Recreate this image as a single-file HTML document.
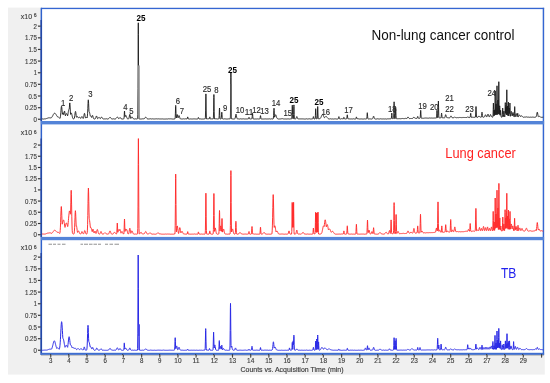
<!DOCTYPE html>
<html><head><meta charset="utf-8"><title>Chromatograms</title>
<style>html,body{margin:0;padding:0;background:#fff}svg{display:block}</style></head>
<body>
<svg width="550" height="383" viewBox="0 0 550 383" font-family="'Liberation Sans', Arial, sans-serif">
<rect width="550" height="383" fill="#fff"/>
<rect x="8" y="7.6" width="536.8" height="367" fill="#f0f0f0"/>
<rect x="41" y="8" width="503" height="346" fill="#fff"/>
<rect x="41" y="7.8" width="503.1" height="1.3" fill="#3466d2"/>
<rect x="542.7" y="7.8" width="1.4" height="347" fill="#3466d2"/>
<rect x="40.6" y="7.8" width="1.5" height="347" fill="#3062cc"/>
<rect x="40.9" y="121.0" width="503.2" height="3.4" fill="#5484d8"/>
<rect x="40.9" y="236.9" width="503.2" height="3.3" fill="#5484d8"/>
<rect x="40.4" y="352.8" width="503.7" height="2.1" fill="#3f6ed0"/>
<rect x="41" y="354.9" width="503" height="0.6" fill="#9a9a9a"/>
<rect x="40.5" y="20" width="1.3" height="101" fill="#21429e"/>
<rect x="40.5" y="138.5" width="1.3" height="98.5" fill="#21429e"/>
<rect x="40.5" y="253" width="1.3" height="99.80000000000001" fill="#21429e"/>
<g font-size="7.2" fill="#3c3c3c" stroke="#3c3c3c" stroke-width="0.15" text-anchor="end">
<rect x="38" y="118.80" width="2.6" height="1" fill="#333"/>
<text x="36.9" y="121.85" textLength="3.4" lengthAdjust="spacingAndGlyphs">0</text>
<rect x="38" y="107.16" width="2.6" height="1" fill="#333"/>
<text x="36.9" y="110.21" textLength="11.9" lengthAdjust="spacingAndGlyphs">0.25</text>
<rect x="38" y="95.52" width="2.6" height="1" fill="#333"/>
<text x="36.9" y="98.57" textLength="8.4" lengthAdjust="spacingAndGlyphs">0.5</text>
<rect x="38" y="83.88" width="2.6" height="1" fill="#333"/>
<text x="36.9" y="86.93" textLength="11.9" lengthAdjust="spacingAndGlyphs">0.75</text>
<rect x="38" y="72.24" width="2.6" height="1" fill="#333"/>
<text x="36.9" y="75.29" textLength="3.2" lengthAdjust="spacingAndGlyphs">1</text>
<rect x="38" y="60.60" width="2.6" height="1" fill="#333"/>
<text x="36.9" y="63.65" textLength="11.9" lengthAdjust="spacingAndGlyphs">1.25</text>
<rect x="38" y="48.96" width="2.6" height="1" fill="#333"/>
<text x="36.9" y="52.01" textLength="8.4" lengthAdjust="spacingAndGlyphs">1.5</text>
<rect x="38" y="37.32" width="2.6" height="1" fill="#333"/>
<text x="36.9" y="40.37" textLength="11.9" lengthAdjust="spacingAndGlyphs">1.75</text>
<rect x="38" y="25.68" width="2.6" height="1" fill="#333"/>
<text x="36.9" y="28.73" textLength="3.4" lengthAdjust="spacingAndGlyphs">2</text>
<text x="32" y="18.70" textLength="11.2" lengthAdjust="spacingAndGlyphs">x10</text>
<text x="36.7" y="17.40" font-size="5.6" textLength="2.9" lengthAdjust="spacingAndGlyphs">6</text>
<rect x="38" y="234.20" width="2.6" height="1" fill="#333"/>
<text x="36.9" y="237.25" textLength="3.4" lengthAdjust="spacingAndGlyphs">0</text>
<rect x="38" y="223.00" width="2.6" height="1" fill="#333"/>
<text x="36.9" y="226.05" textLength="11.9" lengthAdjust="spacingAndGlyphs">0.25</text>
<rect x="38" y="211.80" width="2.6" height="1" fill="#333"/>
<text x="36.9" y="214.85" textLength="8.4" lengthAdjust="spacingAndGlyphs">0.5</text>
<rect x="38" y="200.60" width="2.6" height="1" fill="#333"/>
<text x="36.9" y="203.65" textLength="11.9" lengthAdjust="spacingAndGlyphs">0.75</text>
<rect x="38" y="189.40" width="2.6" height="1" fill="#333"/>
<text x="36.9" y="192.45" textLength="3.2" lengthAdjust="spacingAndGlyphs">1</text>
<rect x="38" y="178.20" width="2.6" height="1" fill="#333"/>
<text x="36.9" y="181.25" textLength="11.9" lengthAdjust="spacingAndGlyphs">1.25</text>
<rect x="38" y="167.00" width="2.6" height="1" fill="#333"/>
<text x="36.9" y="170.05" textLength="8.4" lengthAdjust="spacingAndGlyphs">1.5</text>
<rect x="38" y="155.80" width="2.6" height="1" fill="#333"/>
<text x="36.9" y="158.85" textLength="11.9" lengthAdjust="spacingAndGlyphs">1.75</text>
<rect x="38" y="144.60" width="2.6" height="1" fill="#333"/>
<text x="36.9" y="147.65" textLength="3.4" lengthAdjust="spacingAndGlyphs">2</text>
<text x="32" y="134.90" textLength="11.2" lengthAdjust="spacingAndGlyphs">x10</text>
<text x="36.7" y="133.60" font-size="5.6" textLength="2.9" lengthAdjust="spacingAndGlyphs">6</text>
<rect x="38" y="349.80" width="2.6" height="1" fill="#333"/>
<text x="36.9" y="352.85" textLength="3.4" lengthAdjust="spacingAndGlyphs">0</text>
<rect x="38" y="338.16" width="2.6" height="1" fill="#333"/>
<text x="36.9" y="341.21" textLength="11.9" lengthAdjust="spacingAndGlyphs">0.25</text>
<rect x="38" y="326.52" width="2.6" height="1" fill="#333"/>
<text x="36.9" y="329.57" textLength="8.4" lengthAdjust="spacingAndGlyphs">0.5</text>
<rect x="38" y="314.88" width="2.6" height="1" fill="#333"/>
<text x="36.9" y="317.93" textLength="11.9" lengthAdjust="spacingAndGlyphs">0.75</text>
<rect x="38" y="303.24" width="2.6" height="1" fill="#333"/>
<text x="36.9" y="306.29" textLength="3.2" lengthAdjust="spacingAndGlyphs">1</text>
<rect x="38" y="291.60" width="2.6" height="1" fill="#333"/>
<text x="36.9" y="294.65" textLength="11.9" lengthAdjust="spacingAndGlyphs">1.25</text>
<rect x="38" y="279.96" width="2.6" height="1" fill="#333"/>
<text x="36.9" y="283.01" textLength="8.4" lengthAdjust="spacingAndGlyphs">1.5</text>
<rect x="38" y="268.32" width="2.6" height="1" fill="#333"/>
<text x="36.9" y="271.37" textLength="11.9" lengthAdjust="spacingAndGlyphs">1.75</text>
<rect x="38" y="256.68" width="2.6" height="1" fill="#333"/>
<text x="36.9" y="259.73" textLength="3.4" lengthAdjust="spacingAndGlyphs">2</text>
<text x="32" y="250.10" textLength="11.2" lengthAdjust="spacingAndGlyphs">x10</text>
<text x="36.7" y="248.80" font-size="5.6" textLength="2.9" lengthAdjust="spacingAndGlyphs">6</text>
</g>
<g font-size="7.2" fill="#3c3c3c" stroke="#3c3c3c" stroke-width="0.15" text-anchor="middle">
<rect x="50.20" y="354.9" width="1" height="2.7" fill="#444"/>
<text x="50.70" y="363.3" textLength="3.4" lengthAdjust="spacingAndGlyphs">3</text>
<rect x="68.38" y="354.9" width="1" height="2.7" fill="#444"/>
<text x="68.88" y="363.3" textLength="3.4" lengthAdjust="spacingAndGlyphs">4</text>
<rect x="86.56" y="354.9" width="1" height="2.7" fill="#444"/>
<text x="87.06" y="363.3" textLength="3.4" lengthAdjust="spacingAndGlyphs">5</text>
<rect x="104.74" y="354.9" width="1" height="2.7" fill="#444"/>
<text x="105.24" y="363.3" textLength="3.4" lengthAdjust="spacingAndGlyphs">6</text>
<rect x="122.92" y="354.9" width="1" height="2.7" fill="#444"/>
<text x="123.42" y="363.3" textLength="3.4" lengthAdjust="spacingAndGlyphs">7</text>
<rect x="141.10" y="354.9" width="1" height="2.7" fill="#444"/>
<text x="141.60" y="363.3" textLength="3.4" lengthAdjust="spacingAndGlyphs">8</text>
<rect x="159.28" y="354.9" width="1" height="2.7" fill="#444"/>
<text x="159.78" y="363.3" textLength="3.4" lengthAdjust="spacingAndGlyphs">9</text>
<rect x="177.46" y="354.9" width="1" height="2.7" fill="#444"/>
<text x="177.96" y="363.3" textLength="7.2" lengthAdjust="spacingAndGlyphs">10</text>
<rect x="195.64" y="354.9" width="1" height="2.7" fill="#444"/>
<text x="196.14" y="363.3" textLength="7.2" lengthAdjust="spacingAndGlyphs">11</text>
<rect x="213.82" y="354.9" width="1" height="2.7" fill="#444"/>
<text x="214.32" y="363.3" textLength="7.2" lengthAdjust="spacingAndGlyphs">12</text>
<rect x="232.00" y="354.9" width="1" height="2.7" fill="#444"/>
<text x="232.50" y="363.3" textLength="7.2" lengthAdjust="spacingAndGlyphs">13</text>
<rect x="250.18" y="354.9" width="1" height="2.7" fill="#444"/>
<text x="250.68" y="363.3" textLength="7.2" lengthAdjust="spacingAndGlyphs">14</text>
<rect x="268.36" y="354.9" width="1" height="2.7" fill="#444"/>
<text x="268.86" y="363.3" textLength="7.2" lengthAdjust="spacingAndGlyphs">15</text>
<rect x="286.54" y="354.9" width="1" height="2.7" fill="#444"/>
<text x="287.04" y="363.3" textLength="7.2" lengthAdjust="spacingAndGlyphs">16</text>
<rect x="304.72" y="354.9" width="1" height="2.7" fill="#444"/>
<text x="305.22" y="363.3" textLength="7.2" lengthAdjust="spacingAndGlyphs">17</text>
<rect x="322.90" y="354.9" width="1" height="2.7" fill="#444"/>
<text x="323.40" y="363.3" textLength="7.2" lengthAdjust="spacingAndGlyphs">18</text>
<rect x="341.08" y="354.9" width="1" height="2.7" fill="#444"/>
<text x="341.58" y="363.3" textLength="7.2" lengthAdjust="spacingAndGlyphs">19</text>
<rect x="359.26" y="354.9" width="1" height="2.7" fill="#444"/>
<text x="359.76" y="363.3" textLength="7.2" lengthAdjust="spacingAndGlyphs">20</text>
<rect x="377.44" y="354.9" width="1" height="2.7" fill="#444"/>
<text x="377.94" y="363.3" textLength="7.2" lengthAdjust="spacingAndGlyphs">21</text>
<rect x="395.62" y="354.9" width="1" height="2.7" fill="#444"/>
<text x="396.12" y="363.3" textLength="7.2" lengthAdjust="spacingAndGlyphs">22</text>
<rect x="413.80" y="354.9" width="1" height="2.7" fill="#444"/>
<text x="414.30" y="363.3" textLength="7.2" lengthAdjust="spacingAndGlyphs">23</text>
<rect x="431.98" y="354.9" width="1" height="2.7" fill="#444"/>
<text x="432.48" y="363.3" textLength="7.2" lengthAdjust="spacingAndGlyphs">24</text>
<rect x="450.16" y="354.9" width="1" height="2.7" fill="#444"/>
<text x="450.66" y="363.3" textLength="7.2" lengthAdjust="spacingAndGlyphs">25</text>
<rect x="468.34" y="354.9" width="1" height="2.7" fill="#444"/>
<text x="468.84" y="363.3" textLength="7.2" lengthAdjust="spacingAndGlyphs">26</text>
<rect x="486.52" y="354.9" width="1" height="2.7" fill="#444"/>
<text x="487.02" y="363.3" textLength="7.2" lengthAdjust="spacingAndGlyphs">27</text>
<rect x="504.70" y="354.9" width="1" height="2.7" fill="#444"/>
<text x="505.20" y="363.3" textLength="7.2" lengthAdjust="spacingAndGlyphs">28</text>
<rect x="522.88" y="354.9" width="1" height="2.7" fill="#444"/>
<text x="523.38" y="363.3" textLength="7.2" lengthAdjust="spacingAndGlyphs">29</text>
<rect x="541.06" y="354.9" width="1" height="2.7" fill="#444"/>
<text x="292" y="372.3" textLength="103" lengthAdjust="spacingAndGlyphs">Counts vs. Acquisition Time (min)</text>
</g>
<g fill="#9c9c9c">
<rect x="48.5" y="243.7" width="3.5" height="1.1" />
<rect x="53" y="243.7" width="3" height="1.1" />
<rect x="57.5" y="243.7" width="3.0" height="1.1" />
<rect x="62" y="243.7" width="3.5" height="1.1" />
<rect x="80.5" y="243.7" width="2.5" height="1.1" />
<rect x="84" y="243.7" width="4" height="1.1" />
<rect x="89" y="243.7" width="3.5" height="1.1" />
<rect x="93.5" y="243.7" width="3.5" height="1.1" />
<rect x="98" y="243.7" width="3" height="1.1" />
<rect x="105" y="243.7" width="3" height="1.1" />
<rect x="109.5" y="243.7" width="3.5" height="1.1" />
<rect x="114.5" y="243.7" width="4.5" height="1.1" />
</g>
<polyline points="42.00,119.0 42.20,119.0 42.40,118.9 42.60,118.9 42.80,118.9 43.00,118.9 43.20,119.0 43.40,119.0 43.60,119.0 43.80,119.0 44.00,118.9 44.20,118.9 44.40,118.9 44.60,118.9 44.80,118.8 45.00,118.8 45.20,118.8 45.40,118.8 45.60,118.8 45.80,118.8 46.00,118.7 46.20,118.6 46.40,118.6 46.60,118.5 46.80,118.5 47.00,118.5 47.20,118.4 47.40,118.3 47.60,118.2 47.80,118.1 48.00,118.1 48.20,118.0 48.40,117.9 48.60,117.9 48.80,117.8 49.00,117.9 49.20,117.9 49.40,117.9 49.50,117.9 49.60,117.8 49.80,117.8 50.00,117.9 50.20,117.9 50.40,117.9 50.60,117.9 50.80,117.9 51.00,117.9 51.20,117.8 51.40,117.7 51.60,117.5 51.80,117.3 52.00,117.0 52.20,116.7 52.40,116.4 52.60,116.0 52.80,115.6 53.00,115.2 53.20,114.8 53.40,114.4 53.60,114.1 53.80,113.8 54.00,113.6 54.20,113.4 54.40,113.3 54.60,113.2 54.70,113.1 54.80,113.1 55.00,113.2 55.20,113.4 55.40,113.7 55.60,113.9 55.80,114.2 56.00,114.5 56.20,114.8 56.40,115.2 56.60,115.5 56.80,115.9 57.00,116.2 57.20,116.5 57.40,116.7 57.60,116.8 57.80,116.7 58.00,116.8 58.20,116.8 58.40,117.0 58.60,117.2 58.80,117.4 59.00,117.6 59.20,117.8 59.40,118.0 59.60,118.2 59.80,118.4 60.00,118.4 60.20,117.9 60.40,116.8 60.60,115.1 60.80,112.8 61.00,110.2 61.20,107.9 61.40,106.5 61.50,106.2 61.60,106.4 61.80,107.6 62.00,109.8 62.20,112.2 62.40,114.3 62.60,113.5 62.80,112.9 63.00,112.7 63.20,113.0 63.40,113.7 63.60,114.6 63.80,114.6 64.00,113.2 64.20,112.0 64.40,111.2 64.50,111.1 64.60,111.2 64.80,112.1 65.00,113.4 65.20,114.8 65.40,115.8 65.60,115.3 65.80,114.7 66.00,114.2 66.20,113.7 66.40,113.5 66.50,113.5 66.60,113.6 66.80,113.8 67.00,114.2 67.20,114.8 67.40,115.3 67.60,115.9 67.80,115.0 68.00,113.8 68.20,112.6 68.40,111.4 68.60,110.4 68.80,109.7 68.90,109.4 69.00,109.3 69.20,109.1 69.40,107.2 69.60,104.0 69.80,102.9 70.00,104.5 70.20,108.0 70.40,111.9 70.60,114.4 70.80,113.9 71.00,113.3 71.20,113.0 71.30,112.9 71.40,113.0 71.60,113.5 71.80,114.3 72.00,115.2 72.20,116.2 72.40,117.0 72.60,117.7 72.80,118.2 73.00,118.6 73.20,118.8 73.40,118.9 73.60,118.9 73.80,118.8 74.00,118.7 74.20,118.5 74.40,118.0 74.60,117.0 74.80,115.7 75.00,114.0 75.20,112.4 75.40,111.5 75.50,111.4 75.60,111.5 75.80,112.5 76.00,114.0 76.20,115.6 76.40,116.9 76.60,117.3 76.80,117.0 77.00,116.7 77.20,116.6 77.30,116.5 77.40,116.6 77.60,116.7 77.80,117.0 78.00,117.3 78.20,117.6 78.40,117.9 78.60,117.9 78.80,117.7 79.00,117.5 79.20,117.3 79.40,117.2 79.50,117.2 79.60,117.2 79.80,117.3 80.00,117.5 80.20,117.9 80.40,118.2 80.60,118.3 80.80,118.4 81.00,118.1 81.20,117.7 81.40,117.3 81.60,116.9 81.80,116.6 82.00,116.5 82.20,116.7 82.40,117.0 82.60,117.4 82.80,117.9 83.00,118.3 83.20,118.5 83.40,118.1 83.60,117.4 83.80,116.4 84.00,115.2 84.20,114.1 84.40,113.4 84.50,113.3 84.60,113.5 84.80,114.2 85.00,115.4 85.20,116.6 85.40,117.5 85.60,118.1 85.80,117.7 86.00,117.4 86.20,117.2 86.30,117.2 86.40,117.2 86.60,117.4 86.80,117.7 87.00,118.0 87.20,117.8 87.40,116.2 87.60,113.2 87.80,108.7 88.00,103.7 88.20,100.4 88.30,99.8 88.40,100.2 88.60,103.2 88.80,107.8 89.00,111.7 89.20,111.8 89.30,111.9 89.40,112.1 89.60,112.7 89.80,113.6 90.00,114.6 90.20,115.5 90.40,116.1 90.60,115.9 90.80,115.9 91.00,116.2 91.20,116.6 91.40,117.1 91.60,117.5 91.80,117.3 92.00,116.6 92.20,115.9 92.40,115.5 92.50,115.4 92.60,115.4 92.80,115.9 93.00,116.6 93.20,117.4 93.40,118.0 93.60,118.5 93.80,118.8 94.00,118.9 94.20,118.9 94.40,119.0 94.60,119.0 94.80,119.0 95.00,118.9 95.20,118.8 95.40,118.6 95.60,118.2 95.80,117.7 96.00,117.0 96.20,116.4 96.40,116.0 96.50,116.0 96.60,116.0 96.80,116.4 97.00,117.0 97.20,117.7 97.40,118.2 97.60,118.6 97.80,118.7 98.00,118.5 98.20,118.2 98.40,117.9 98.60,117.6 98.80,117.4 99.00,117.3 99.20,117.3 99.40,117.6 99.60,117.9 99.80,118.2 100.00,118.5 100.20,118.6 100.40,118.5 100.60,118.2 100.80,117.9 101.00,117.5 101.20,117.2 101.40,117.0 101.50,117.0 101.60,117.0 101.80,117.3 102.00,117.6 102.20,118.0 102.40,118.3 102.60,118.5 102.80,118.7 103.00,118.8 103.20,118.9 103.40,119.0 103.60,118.9 103.80,118.9 104.00,118.9 104.20,118.9 104.40,118.9 104.60,118.9 104.80,118.9 105.00,118.9 105.20,119.0 105.40,118.9 105.60,118.8 105.80,118.7 106.00,118.6 106.20,118.6 106.40,118.7 106.60,118.8 106.80,118.9 107.00,118.9 107.20,119.0 107.40,119.0 107.60,119.0 107.80,119.0 108.00,119.0 108.20,118.9 108.40,118.8 108.60,118.7 108.80,118.5 109.00,118.3 109.20,118.1 109.40,117.8 109.60,117.5 109.80,117.3 110.00,117.2 110.20,117.3 110.40,117.4 110.60,117.7 110.80,118.0 111.00,118.3 111.20,118.5 111.40,118.7 111.60,118.8 111.80,118.9 112.00,118.9 112.20,118.9 112.40,119.0 112.60,119.0 112.80,118.9 113.00,118.9 113.20,118.8 113.40,118.8 113.60,118.8 113.80,118.9 114.00,118.9 114.20,119.0 114.40,119.0 114.60,119.0 114.80,118.9 115.00,118.9 115.20,118.9 115.40,118.9 115.60,118.8 115.80,118.7 116.00,118.5 116.20,118.3 116.40,118.0 116.60,117.7 116.80,117.4 117.00,117.1 117.20,117.0 117.30,117.0 117.40,117.0 117.60,117.2 117.80,117.4 118.00,117.7 118.20,118.0 118.40,118.3 118.60,118.5 118.80,118.7 119.00,118.7 119.20,118.4 119.40,118.1 119.60,117.8 119.80,117.6 120.00,117.5 120.20,117.5 120.40,117.7 120.60,118.1 120.80,118.4 121.00,118.7 121.20,118.8 121.40,118.8 121.60,118.8 121.80,118.8 122.00,118.9 122.20,118.9 122.40,119.0 122.60,119.0 122.80,119.0 123.00,118.9 123.20,118.9 123.40,118.9 123.60,118.9 123.80,118.8 124.00,118.4 124.20,116.1 124.40,111.9 124.50,111.0 124.60,111.8 124.80,115.8 125.00,116.8 125.20,116.3 125.40,115.8 125.60,115.4 125.80,115.3 126.00,115.5 126.20,115.9 126.40,116.5 126.60,117.1 126.80,117.6 127.00,118.1 127.20,118.5 127.40,118.7 127.60,118.8 127.80,118.8 128.00,118.9 128.20,118.9 128.40,118.9 128.60,118.8 128.80,118.6 129.00,118.1 129.20,117.1 129.40,115.9 129.60,114.8 129.80,114.4 130.00,114.8 130.20,115.9 130.40,117.1 130.60,118.0 130.80,118.5 131.00,118.3 131.20,118.0 131.40,117.6 131.60,117.2 131.80,116.9 132.00,116.9 132.20,117.0 132.40,117.3 132.60,117.7 132.80,118.1 133.00,118.4 133.20,118.6 133.40,118.7 133.60,118.7 133.80,118.8 134.00,118.8 134.20,118.9 134.40,119.0 134.60,119.0 134.80,118.9 135.00,118.8 135.20,118.8 135.40,118.8 135.60,118.8 135.80,118.8 136.00,118.9 136.20,118.9 136.40,119.0 136.60,118.9 136.80,118.9 137.00,118.8 137.20,118.8 137.40,118.8 137.60,118.6 137.80,114.8 138.00,88.3 138.20,34.3 138.30,22.8 138.40,34.3 138.60,88.4 138.80,114.9 139.00,118.7 139.20,119.0 139.40,119.0 139.60,119.0 139.80,118.9 140.00,118.9 140.20,118.9 140.40,119.0 140.60,119.0 140.80,119.0 141.00,119.0 141.20,119.0 141.40,119.0 141.60,118.9 141.80,118.9 142.00,118.8 142.20,118.8 142.40,118.8 142.60,118.8 142.80,118.8 143.00,118.8 143.20,118.8 143.40,118.8 143.60,118.8 143.80,118.8 144.00,118.8 144.20,118.7 144.40,118.6 144.60,118.5 144.80,118.2 145.00,117.9 145.20,117.6 145.40,117.3 145.60,117.2 145.70,117.1 145.80,117.1 146.00,117.2 146.20,117.4 146.40,117.7 146.60,118.0 146.80,118.3 147.00,118.6 147.20,118.7 147.40,118.8 147.60,118.9 147.80,118.9 148.00,118.9 148.20,118.9 148.40,118.9 148.60,119.0 148.80,119.0 149.00,118.9 149.20,118.9 149.40,118.9 149.60,118.9 149.80,118.9 150.00,118.9 150.20,118.8 150.40,118.8 150.60,118.8 150.80,118.8 151.00,118.9 151.20,118.9 151.40,118.9 151.60,119.0 151.80,119.0 152.00,118.9 152.20,118.9 152.40,118.8 152.60,118.8 152.80,118.9 153.00,118.9 153.20,118.9 153.40,118.9 153.60,119.0 153.80,119.0 154.00,119.0 154.20,119.0 154.40,119.0 154.60,118.9 154.80,119.0 155.00,119.0 155.20,119.0 155.40,118.9 155.60,118.9 155.80,118.9 156.00,119.0 156.20,118.9 156.40,118.9 156.60,118.8 156.80,118.8 157.00,118.8 157.20,118.8 157.40,118.9 157.60,118.9 157.80,119.0 158.00,118.9 158.20,118.9 158.40,118.8 158.60,118.8 158.80,118.9 159.00,118.9 159.20,119.0 159.40,119.0 159.60,118.9 159.80,118.9 160.00,119.0 160.20,119.0 160.40,119.0 160.60,118.9 160.80,118.9 161.00,118.9 161.20,118.9 161.40,118.9 161.60,119.0 161.80,119.0 162.00,119.0 162.20,119.0 162.40,118.9 162.60,118.9 162.80,118.9 163.00,118.9 163.20,119.0 163.40,119.0 163.60,119.0 163.80,118.9 164.00,118.9 164.20,119.0 164.40,119.0 164.60,119.0 164.80,119.0 165.00,119.0 165.20,119.0 165.40,119.0 165.60,119.0 165.80,119.0 166.00,119.0 166.20,119.0 166.40,119.0 166.60,118.9 166.80,118.9 167.00,118.9 167.20,118.9 167.40,119.0 167.60,119.0 167.80,118.9 168.00,118.8 168.20,118.8 168.40,118.8 168.60,118.8 168.80,118.9 169.00,119.0 169.20,119.0 169.40,118.9 169.60,118.8 169.80,118.8 170.00,118.8 170.20,118.8 170.40,118.8 170.60,118.9 170.80,118.9 171.00,119.0 171.20,119.0 171.40,118.9 171.60,118.9 171.80,118.9 172.00,119.0 172.20,119.0 172.40,119.0 172.60,119.0 172.80,119.0 173.00,119.0 173.20,119.0 173.40,119.0 173.60,119.0 173.80,119.0 174.00,118.9 174.20,118.9 174.40,118.9 174.60,118.9 174.80,118.9 175.00,118.8 175.20,117.7 175.40,113.2 175.60,106.6 175.70,105.4 175.80,106.6 176.00,113.2 176.20,117.7 176.40,118.0 176.60,117.1 176.80,115.9 177.00,114.9 177.20,114.5 177.40,114.9 177.60,115.9 177.80,117.1 178.00,117.9 178.20,117.7 178.40,117.1 178.60,116.4 178.80,115.8 179.00,115.5 179.20,115.7 179.40,116.2 179.60,117.0 179.80,117.7 180.00,118.3 180.20,118.7 180.40,118.9 180.60,118.9 180.80,118.9 181.00,118.9 181.20,119.0 181.40,119.0 181.60,118.9 181.80,118.9 182.00,118.9 182.20,118.9 182.40,118.9 182.60,119.0 182.80,119.0 183.00,118.9 183.20,118.9 183.40,118.8 183.60,118.8 183.80,118.8 184.00,118.8 184.20,118.9 184.40,119.0 184.60,118.9 184.80,118.8 185.00,118.8 185.20,118.8 185.40,118.8 185.60,118.8 185.80,118.8 186.00,118.9 186.20,118.9 186.40,118.9 186.60,118.9 186.80,119.0 187.00,119.0 187.20,118.7 187.40,118.0 187.60,117.1 187.70,116.9 187.80,117.1 188.00,118.0 188.20,118.8 188.40,118.9 188.60,118.9 188.80,118.9 189.00,118.9 189.20,119.0 189.40,119.0 189.60,119.0 189.80,119.0 190.00,119.0 190.20,119.0 190.40,118.9 190.60,118.9 190.80,118.9 191.00,118.9 191.20,118.9 191.40,119.0 191.60,119.0 191.80,118.9 192.00,118.9 192.20,119.0 192.40,119.0 192.60,118.9 192.80,118.9 193.00,118.9 193.20,118.9 193.40,118.9 193.60,118.9 193.80,118.9 194.00,118.9 194.20,118.9 194.40,118.9 194.60,118.9 194.80,118.9 195.00,118.9 195.20,118.9 195.40,118.9 195.60,119.0 195.80,119.0 196.00,119.0 196.20,119.0 196.40,119.0 196.60,119.0 196.80,119.0 197.00,119.0 197.20,119.0 197.40,119.0 197.60,119.0 197.80,118.9 198.00,118.6 198.20,117.8 198.40,117.4 198.60,117.8 198.80,118.5 199.00,118.8 199.20,118.9 199.40,118.9 199.60,118.9 199.80,118.9 200.00,118.9 200.20,118.9 200.40,118.9 200.60,118.9 200.80,118.9 201.00,118.9 201.20,119.0 201.40,119.0 201.60,119.0 201.80,119.0 202.00,119.0 202.20,119.0 202.40,119.0 202.60,119.0 202.80,119.0 203.00,119.0 203.20,119.0 203.40,119.0 203.60,119.0 203.80,119.0 204.00,119.0 204.20,118.9 204.40,118.9 204.60,118.9 204.80,118.9 205.00,118.9 205.20,118.8 205.40,117.8 205.60,110.9 205.80,96.9 205.90,93.9 206.00,96.9 206.20,111.0 206.40,117.9 206.60,118.9 206.80,119.0 207.00,119.0 207.20,118.9 207.40,118.9 207.60,118.8 207.80,118.8 208.00,118.7 208.20,118.7 208.40,118.8 208.60,118.8 208.80,118.9 209.00,119.0 209.20,118.9 209.40,118.4 209.60,117.5 209.80,116.9 210.00,117.5 210.20,118.4 210.40,118.9 210.60,119.0 210.80,119.0 211.00,118.9 211.20,118.9 211.40,118.9 211.60,118.9 211.80,118.8 212.00,118.9 212.20,118.9 212.40,118.9 212.60,118.9 212.80,118.9 213.00,118.9 213.20,118.9 213.40,117.9 213.60,111.2 213.80,97.4 213.90,94.5 214.00,97.4 214.20,111.2 214.40,118.0 214.60,118.9 214.80,118.9 215.00,118.9 215.20,118.8 215.40,118.8 215.60,118.8 215.80,118.8 216.00,118.8 216.20,118.8 216.40,118.8 216.60,118.8 216.80,118.9 217.00,118.9 217.20,119.0 217.40,119.0 217.60,118.9 217.80,118.9 218.00,118.9 218.20,118.9 218.40,118.9 218.60,118.8 218.80,118.8 219.00,118.4 219.20,115.4 219.40,109.3 219.50,108.0 219.60,109.3 219.80,115.5 220.00,118.5 220.20,119.0 220.40,119.0 220.60,119.0 220.80,119.0 221.00,118.9 221.20,118.7 221.40,117.3 221.60,114.2 221.80,112.2 222.00,114.2 222.20,117.3 222.40,118.7 222.60,118.9 222.80,118.9 223.00,119.0 223.20,119.0 223.40,119.0 223.60,119.0 223.80,119.0 224.00,119.0 224.20,118.9 224.40,118.9 224.60,118.8 224.80,118.8 225.00,118.8 225.20,118.9 225.40,118.9 225.60,118.9 225.80,118.9 226.00,119.0 226.20,119.0 226.40,119.0 226.60,119.0 226.80,119.0 227.00,119.0 227.20,119.0 227.40,119.0 227.60,119.0 227.80,118.9 228.00,118.9 228.20,118.9 228.40,118.9 228.60,118.9 228.80,118.9 229.00,119.0 229.20,118.9 229.40,118.9 229.60,118.9 229.80,118.9 230.00,118.9 230.20,118.8 230.40,117.0 230.60,104.1 230.80,77.9 230.90,72.3 231.00,77.8 231.20,104.1 231.40,116.9 231.60,118.8 231.80,118.9 232.00,118.9 232.20,118.9 232.40,118.9 232.60,118.9 232.80,119.0 233.00,119.0 233.20,119.0 233.40,119.0 233.60,119.0 233.80,119.0 234.00,119.0 234.20,119.0 234.40,119.0 234.60,118.9 234.80,118.8 235.00,118.5 235.20,118.0 235.40,117.0 235.60,115.8 235.80,114.6 236.00,114.1 236.20,114.5 236.40,115.6 236.60,116.9 236.80,117.8 237.00,118.4 237.20,118.7 237.40,118.8 237.60,118.9 237.80,118.9 238.00,119.0 238.20,119.0 238.40,118.9 238.60,118.9 238.80,118.9 239.00,119.0 239.20,119.0 239.40,119.0 239.60,119.0 239.80,118.9 240.00,118.8 240.20,118.8 240.40,118.8 240.60,118.8 240.80,118.8 241.00,118.9 241.20,119.0 241.40,118.9 241.60,118.9 241.80,118.9 242.00,118.9 242.20,118.9 242.40,118.9 242.60,118.9 242.80,118.9 243.00,118.9 243.20,118.9 243.40,118.8 243.60,118.8 243.80,118.9 244.00,118.9 244.20,119.0 244.40,119.0 244.60,118.9 244.80,118.9 245.00,118.9 245.20,118.9 245.40,118.9 245.60,119.0 245.80,119.0 246.00,119.0 246.20,119.0 246.40,119.0 246.60,118.9 246.80,118.9 247.00,118.9 247.20,119.0 247.40,118.9 247.60,118.9 247.80,118.8 248.00,118.8 248.20,118.8 248.40,118.8 248.60,118.5 248.80,117.8 249.00,117.3 249.20,117.7 249.40,118.5 249.60,118.8 249.80,118.8 250.00,118.8 250.20,118.8 250.40,118.9 250.60,119.0 250.80,118.9 251.00,118.8 251.20,118.8 251.40,118.8 251.60,118.8 251.80,118.8 252.00,118.4 252.20,116.5 252.40,113.7 252.50,113.1 252.60,113.6 252.80,116.5 253.00,118.4 253.20,118.9 253.40,118.9 253.60,119.0 253.80,119.0 254.00,119.0 254.20,119.0 254.40,119.0 254.60,119.0 254.80,119.0 255.00,119.0 255.20,119.0 255.40,119.0 255.60,118.9 255.80,118.9 256.00,118.9 256.20,118.9 256.40,118.9 256.60,119.0 256.80,119.0 257.00,118.9 257.20,118.9 257.40,118.8 257.60,118.9 257.80,118.9 258.00,118.9 258.20,119.0 258.40,119.0 258.60,118.9 258.80,119.0 259.00,119.0 259.20,119.0 259.40,119.0 259.60,118.9 259.80,118.9 260.00,118.6 260.20,117.4 260.40,115.9 260.50,115.6 260.60,115.9 260.80,117.4 261.00,118.6 261.20,118.9 261.40,119.0 261.60,119.0 261.80,119.0 262.00,119.0 262.20,119.0 262.40,119.0 262.60,119.0 262.80,118.9 263.00,118.9 263.20,118.9 263.40,119.0 263.60,119.0 263.80,119.0 264.00,119.0 264.20,119.0 264.40,119.0 264.60,118.9 264.80,118.9 265.00,118.9 265.20,118.9 265.40,118.9 265.60,118.9 265.80,118.9 266.00,118.9 266.20,119.0 266.40,119.0 266.60,118.9 266.80,118.9 267.00,118.9 267.20,118.9 267.40,118.9 267.60,119.0 267.80,119.0 268.00,119.0 268.20,119.0 268.40,118.9 268.60,118.9 268.80,118.9 269.00,118.8 269.20,118.8 269.40,118.8 269.60,118.9 269.80,118.9 270.00,119.0 270.20,119.0 270.40,119.0 270.60,119.0 270.80,119.0 271.00,118.9 271.20,118.9 271.40,118.8 271.60,118.8 271.80,118.8 272.00,118.8 272.20,118.9 272.40,118.9 272.60,119.0 272.80,119.0 273.00,118.9 273.20,118.8 273.40,118.0 273.60,115.4 273.80,110.8 274.00,108.2 274.20,110.7 274.40,115.2 274.60,117.2 274.80,116.7 275.00,116.0 275.20,115.4 275.40,114.9 275.60,114.7 275.80,114.9 276.00,115.3 276.20,116.0 276.40,116.7 276.60,117.4 276.80,117.9 277.00,118.2 277.20,118.5 277.40,118.6 277.60,118.7 277.80,118.7 278.00,118.8 278.20,118.9 278.40,119.0 278.60,119.0 278.80,118.9 279.00,118.9 279.20,118.9 279.40,118.9 279.60,119.0 279.80,119.0 280.00,118.9 280.20,118.9 280.40,118.9 280.60,118.9 280.80,118.9 281.00,118.8 281.20,118.8 281.40,118.8 281.60,118.7 281.80,118.7 282.00,118.7 282.20,118.6 282.40,118.7 282.60,118.7 282.80,118.8 283.00,118.9 283.20,118.9 283.40,119.0 283.60,118.9 283.80,118.9 284.00,118.9 284.20,118.9 284.40,119.0 284.60,119.0 284.80,118.9 285.00,118.9 285.20,118.9 285.40,118.9 285.60,119.0 285.80,119.0 286.00,119.0 286.20,119.0 286.40,119.0 286.60,119.0 286.80,119.0 287.00,119.0 287.20,119.0 287.40,118.9 287.60,118.9 287.80,118.9 288.00,118.9 288.20,118.9 288.40,118.9 288.60,118.9 288.80,118.9 289.00,118.9 289.20,118.9 289.40,119.0 289.60,119.0 289.80,119.0 290.00,118.9 290.20,118.9 290.40,118.9 290.60,118.9 290.80,118.9 291.00,119.0 291.20,119.0 291.40,118.9 291.60,118.8 291.80,118.2 292.00,114.4 292.20,106.8 292.30,105.2 292.40,106.9 292.60,114.6 292.80,118.3 293.00,118.9 293.20,118.9 293.40,118.4 293.60,114.5 293.80,106.6 293.90,104.9 294.00,106.6 294.20,114.5 294.40,118.4 294.60,119.0 294.80,119.0 295.00,119.0 295.20,119.0 295.40,119.0 295.60,118.9 295.80,118.8 296.00,118.5 296.20,118.0 296.40,117.4 296.60,116.8 296.80,116.5 297.00,116.8 297.20,117.3 297.40,118.0 297.60,118.5 297.80,118.8 298.00,118.9 298.20,118.9 298.40,118.9 298.60,118.9 298.80,118.9 299.00,118.9 299.20,118.9 299.40,118.9 299.60,118.9 299.80,118.9 300.00,118.9 300.20,118.9 300.40,118.9 300.60,118.9 300.80,118.9 301.00,118.9 301.20,118.9 301.40,118.9 301.60,118.9 301.80,118.9 302.00,118.9 302.20,118.9 302.40,118.9 302.60,118.9 302.80,118.9 303.00,118.9 303.20,118.9 303.40,119.0 303.60,118.9 303.80,118.9 304.00,118.9 304.20,119.0 304.40,119.0 304.60,119.0 304.80,119.0 305.00,119.0 305.20,119.0 305.40,119.0 305.60,119.0 305.80,119.0 306.00,119.0 306.20,118.9 306.40,118.9 306.60,118.8 306.80,118.8 307.00,118.9 307.20,118.9 307.40,119.0 307.60,119.0 307.80,119.0 308.00,118.9 308.20,118.9 308.40,118.9 308.60,118.9 308.80,118.9 309.00,118.9 309.20,118.8 309.40,118.8 309.60,118.8 309.80,118.9 310.00,118.9 310.20,118.9 310.40,119.0 310.60,119.0 310.80,119.0 311.00,119.0 311.20,119.0 311.40,119.0 311.60,118.9 311.80,118.9 312.00,118.9 312.20,118.8 312.40,118.8 312.60,118.9 312.80,118.8 313.00,118.4 313.20,117.3 313.40,116.6 313.60,117.3 313.80,118.4 314.00,118.9 314.20,119.0 314.40,119.0 314.60,119.0 314.80,118.9 315.00,118.9 315.20,118.4 315.40,115.6 315.60,109.9 315.70,108.7 315.80,109.9 316.00,115.7 316.20,118.5 316.40,118.9 316.60,118.9 316.80,118.9 317.00,118.9 317.20,118.4 317.40,115.0 317.60,108.0 317.70,106.5 317.80,107.9 318.00,115.0 318.20,118.5 318.40,118.9 318.60,118.8 318.80,118.7 319.00,118.7 319.20,118.7 319.40,118.7 319.60,118.7 319.80,118.7 320.00,118.6 320.20,118.5 320.40,118.2 320.60,117.9 320.80,117.6 321.00,117.2 321.20,116.8 321.40,116.3 321.60,115.8 321.80,115.3 322.00,114.9 322.20,114.6 322.40,114.5 322.50,114.5 322.60,114.4 322.80,114.5 323.00,114.7 323.20,115.1 323.40,115.6 323.60,116.1 323.80,116.6 324.00,117.0 324.20,117.4 324.40,117.7 324.60,117.7 324.80,117.5 325.00,117.2 325.20,117.0 325.40,116.8 325.60,116.6 325.80,116.4 326.00,116.4 326.20,116.5 326.40,116.6 326.60,116.8 326.80,117.0 327.00,117.2 327.20,117.4 327.40,117.7 327.60,118.0 327.80,118.3 328.00,118.5 328.20,118.6 328.40,118.7 328.60,118.8 328.80,118.9 329.00,118.9 329.20,119.0 329.40,119.0 329.60,118.9 329.80,118.8 330.00,118.8 330.20,118.8 330.40,118.8 330.60,118.8 330.80,118.8 331.00,118.9 331.20,118.9 331.40,119.0 331.60,119.0 331.80,119.0 332.00,119.0 332.20,119.0 332.40,118.9 332.60,118.9 332.80,118.9 333.00,118.9 333.20,118.9 333.40,119.0 333.60,119.0 333.80,119.0 334.00,118.9 334.20,118.9 334.40,118.9 334.60,118.9 334.80,118.9 335.00,118.9 335.20,118.9 335.40,118.9 335.60,118.9 335.80,118.9 336.00,119.0 336.20,119.0 336.40,119.0 336.60,119.0 336.80,119.0 337.00,119.0 337.20,119.0 337.40,119.0 337.60,119.0 337.80,119.0 338.00,118.9 338.20,118.8 338.40,118.5 338.60,117.7 338.80,116.7 338.90,116.6 339.00,116.8 339.20,117.9 339.40,118.7 339.60,118.9 339.80,118.9 340.00,118.9 340.20,119.0 340.40,119.0 340.60,118.9 340.80,118.9 341.00,118.8 341.20,118.7 341.40,118.7 341.60,118.7 341.80,118.8 342.00,118.9 342.20,118.9 342.40,118.8 342.60,118.8 342.80,118.8 343.00,118.9 343.20,118.9 343.40,118.8 343.60,118.2 343.80,117.4 343.90,117.3 344.00,117.4 344.20,118.1 344.40,118.7 344.60,118.8 344.80,118.8 345.00,118.8 345.20,118.9 345.40,118.9 345.60,119.0 345.80,118.9 346.00,118.9 346.20,118.9 346.40,118.8 346.60,118.8 346.80,118.3 347.00,117.0 347.20,115.1 347.30,114.8 347.40,115.2 347.60,117.1 347.80,118.5 348.00,118.8 348.20,118.8 348.40,118.8 348.60,118.8 348.80,118.9 349.00,118.9 349.20,118.9 349.40,118.9 349.60,118.9 349.80,118.9 350.00,118.9 350.20,118.9 350.40,118.9 350.60,119.0 350.80,119.0 351.00,119.0 351.20,119.0 351.40,119.0 351.60,118.9 351.80,118.9 352.00,119.0 352.20,119.0 352.40,119.0 352.60,118.9 352.80,118.9 353.00,118.8 353.20,118.8 353.40,118.8 353.60,118.8 353.80,118.8 354.00,118.9 354.20,118.9 354.40,119.0 354.60,119.0 354.80,119.0 355.00,119.0 355.20,119.0 355.40,119.0 355.60,119.0 355.80,118.9 356.00,118.5 356.20,117.6 356.40,116.9 356.60,117.5 356.80,118.3 357.00,118.7 357.20,118.7 357.40,118.7 357.60,118.7 357.80,118.7 358.00,118.7 358.20,118.7 358.40,118.8 358.60,118.8 358.80,118.9 359.00,118.9 359.20,118.9 359.40,119.0 359.60,119.0 359.80,119.0 360.00,119.0 360.20,119.0 360.40,119.0 360.60,118.9 360.80,118.9 361.00,118.9 361.20,118.9 361.40,118.9 361.60,118.9 361.80,119.0 362.00,119.0 362.20,119.0 362.40,119.0 362.60,119.0 362.80,119.0 363.00,119.0 363.20,119.0 363.40,119.0 363.60,119.0 363.80,119.0 364.00,119.0 364.20,118.9 364.40,118.9 364.60,118.9 364.80,118.9 365.00,118.9 365.20,118.9 365.40,119.0 365.60,119.0 365.80,118.9 366.00,118.9 366.20,118.9 366.40,118.9 366.60,118.9 366.80,118.4 367.00,116.3 367.20,113.3 367.30,112.7 367.40,113.2 367.60,116.2 367.80,118.3 368.00,118.8 368.20,118.9 368.40,119.0 368.60,119.0 368.80,119.0 369.00,119.0 369.20,118.9 369.40,118.9 369.60,118.9 369.80,118.9 370.00,118.9 370.20,118.9 370.40,118.9 370.60,118.9 370.80,119.0 371.00,119.0 371.20,119.0 371.40,119.0 371.60,119.0 371.80,119.0 372.00,118.9 372.20,118.9 372.40,118.8 372.60,118.6 372.80,118.3 373.00,117.8 373.20,117.1 373.40,116.4 373.60,116.2 373.80,116.4 374.00,117.1 374.20,117.8 374.40,118.4 374.60,118.7 374.80,118.9 375.00,118.9 375.20,119.0 375.40,119.0 375.60,119.0 375.80,119.0 376.00,119.0 376.20,119.0 376.40,119.0 376.60,119.0 376.80,118.9 377.00,118.9 377.20,118.8 377.40,118.8 377.60,118.8 377.80,118.8 378.00,118.8 378.20,118.9 378.40,118.9 378.60,118.9 378.80,118.9 379.00,118.9 379.20,119.0 379.40,119.0 379.60,118.9 379.80,118.9 380.00,118.8 380.20,118.8 380.40,118.8 380.60,118.8 380.80,118.8 381.00,118.9 381.20,118.9 381.40,119.0 381.60,118.9 381.80,118.9 382.00,118.9 382.20,118.9 382.40,118.9 382.60,119.0 382.80,119.0 383.00,119.0 383.20,119.0 383.40,118.9 383.60,118.9 383.80,118.9 384.00,118.9 384.20,118.9 384.40,118.9 384.60,119.0 384.80,119.0 385.00,118.9 385.20,118.9 385.40,118.9 385.60,118.9 385.80,118.9 386.00,118.9 386.20,119.0 386.40,119.0 386.60,119.0 386.80,119.0 387.00,118.9 387.20,118.9 387.40,118.8 387.60,118.8 387.80,118.8 388.00,118.7 388.20,118.8 388.40,118.8 388.60,118.8 388.80,118.9 389.00,118.9 389.20,118.9 389.40,118.8 389.60,118.8 389.80,118.8 390.00,118.8 390.20,118.8 390.40,118.8 390.60,118.8 390.80,118.8 391.00,118.8 391.20,118.7 391.40,118.1 391.60,115.4 391.80,113.1 392.00,115.3 392.20,118.0 392.40,118.6 392.60,118.7 392.80,118.6 393.00,118.6 393.20,118.6 393.40,118.5 393.60,117.8 393.80,113.2 394.00,103.7 394.10,101.8 394.20,103.9 394.40,113.4 394.60,118.1 394.80,118.8 395.00,118.8 395.20,118.3 395.40,115.2 395.60,108.9 395.70,107.6 395.80,108.9 396.00,115.2 396.20,118.3 396.40,118.7 396.60,118.7 396.80,118.7 397.00,118.7 397.20,118.8 397.40,118.7 397.60,118.7 397.80,118.7 398.00,118.7 398.20,118.8 398.40,118.7 398.60,118.6 398.80,118.6 399.00,118.6 399.20,118.6 399.40,118.6 399.60,118.7 399.80,118.7 400.00,118.7 400.20,118.7 400.40,118.7 400.60,118.7 400.80,118.7 401.00,118.6 401.20,118.6 401.40,118.6 401.60,118.6 401.80,118.6 402.00,118.6 402.20,118.5 402.40,118.5 402.60,118.5 402.80,118.5 403.00,118.5 403.20,118.5 403.40,118.5 403.60,118.6 403.80,118.7 404.00,118.6 404.20,118.6 404.40,118.6 404.60,118.6 404.80,118.6 405.00,118.6 405.20,118.5 405.40,118.4 405.60,118.4 405.80,118.4 406.00,118.4 406.20,118.4 406.40,118.5 406.60,118.5 406.80,118.6 407.00,118.4 407.20,118.2 407.40,117.8 407.60,117.4 407.80,117.0 408.00,116.9 408.20,117.0 408.40,117.3 408.60,117.8 408.80,118.1 409.00,118.3 409.20,118.4 409.40,118.5 409.60,118.6 409.80,118.5 410.00,118.5 410.20,118.5 410.40,118.5 410.60,118.5 410.80,118.5 411.00,118.5 411.20,118.5 411.40,118.5 411.60,118.5 411.80,118.5 412.00,118.5 412.20,118.4 412.40,118.4 412.60,118.4 412.80,118.3 413.00,118.2 413.20,118.0 413.40,117.8 413.60,117.4 413.80,117.2 413.90,117.2 414.00,117.2 414.20,117.4 414.40,117.7 414.60,118.0 414.80,118.2 415.00,118.3 415.20,118.3 415.40,118.4 415.60,118.4 415.80,118.3 416.00,118.4 416.20,118.4 416.40,118.4 416.60,118.4 416.80,118.4 417.00,118.4 417.20,118.2 417.40,117.5 417.60,116.6 417.70,116.4 417.80,116.5 418.00,117.4 418.20,118.1 418.40,118.2 418.60,118.3 418.80,118.3 419.00,118.3 419.20,118.3 419.40,118.3 419.60,118.3 419.80,118.3 420.00,118.2 420.20,117.6 420.40,115.0 420.60,111.1 420.70,110.3 420.80,111.1 421.00,114.9 421.20,117.6 421.40,118.2 421.60,118.3 421.80,118.3 422.00,118.3 422.20,118.3 422.40,118.3 422.60,118.2 422.80,118.2 423.00,118.2 423.20,118.2 423.40,118.2 423.60,118.3 423.80,118.3 424.00,118.2 424.20,118.2 424.40,118.1 424.60,118.1 424.80,118.1 425.00,118.1 425.20,118.1 425.40,118.0 425.60,118.0 425.80,118.0 426.00,118.0 426.20,118.0 426.40,118.0 426.60,118.1 426.80,118.1 427.00,118.1 427.20,118.1 427.40,118.1 427.60,118.2 427.80,118.2 428.00,118.2 428.20,118.2 428.40,118.2 428.60,118.2 428.80,118.2 429.00,118.2 429.20,118.1 429.40,118.0 429.60,118.0 429.80,118.0 430.00,118.1 430.20,118.1 430.40,118.1 430.60,118.1 430.80,118.0 431.00,118.0 431.20,118.0 431.40,118.0 431.60,118.0 431.80,118.1 432.00,118.1 432.20,118.1 432.40,118.1 432.60,118.1 432.80,118.1 433.00,118.1 433.20,118.0 433.40,118.1 433.60,118.1 433.80,118.1 434.00,118.0 434.20,118.0 434.40,118.0 434.60,118.0 434.80,118.1 435.00,118.1 435.20,118.0 435.40,118.0 435.60,118.0 435.80,118.0 436.00,118.0 436.20,118.0 436.40,118.0 436.60,117.4 436.80,113.9 437.00,110.3 437.20,113.7 437.40,117.1 437.60,117.7 437.80,117.6 438.00,115.6 438.20,107.7 438.40,101.0 438.60,107.7 438.80,115.7 439.00,117.7 439.20,117.9 439.40,117.9 439.60,118.0 439.80,118.0 440.00,118.0 440.20,117.9 440.40,117.9 440.60,117.9 440.80,117.9 441.00,117.7 441.20,116.7 441.40,114.5 441.60,113.2 441.80,114.6 442.00,116.8 442.20,117.7 442.40,117.9 442.60,117.9 442.80,117.9 443.00,117.9 443.20,117.9 443.40,117.8 443.60,117.8 443.80,117.8 444.00,117.8 444.20,117.9 444.40,117.9 444.60,117.8 444.80,117.5 445.00,116.9 445.20,116.1 445.40,115.3 445.60,114.7 445.70,114.7 445.80,114.8 446.00,115.3 446.20,116.2 446.40,116.9 446.60,117.4 446.80,117.6 447.00,117.7 447.20,117.7 447.40,117.7 447.60,117.7 447.80,117.7 448.00,117.8 448.20,117.8 448.40,117.8 448.60,117.8 448.80,117.8 449.00,117.8 449.20,117.8 449.40,117.8 449.60,117.8 449.80,117.7 450.00,117.6 450.20,117.4 450.40,117.0 450.60,116.5 450.80,116.1 451.00,115.9 451.20,116.1 451.40,116.5 451.60,117.0 451.80,117.4 452.00,117.6 452.20,117.7 452.40,117.7 452.60,117.7 452.80,117.7 453.00,117.7 453.20,117.7 453.40,117.7 453.60,117.7 453.80,117.7 454.00,117.6 454.20,117.4 454.40,117.2 454.60,117.1 454.80,117.0 455.00,117.1 455.20,117.2 455.40,117.4 455.60,117.5 455.80,117.6 456.00,117.6 456.20,117.6 456.40,117.7 456.60,117.7 456.80,117.7 457.00,117.6 457.20,117.6 457.40,117.6 457.60,117.6 457.80,117.6 458.00,117.6 458.20,117.6 458.40,117.7 458.60,117.7 458.80,117.6 459.00,117.6 459.20,117.5 459.40,117.5 459.60,117.5 459.80,117.5 460.00,117.5 460.20,117.5 460.40,117.5 460.60,117.5 460.80,117.6 461.00,117.6 461.20,117.6 461.40,117.6 461.60,117.6 461.80,117.6 462.00,117.6 462.20,117.6 462.40,117.5 462.60,117.5 462.80,117.6 463.00,117.6 463.20,117.5 463.40,117.5 463.60,117.5 463.80,117.5 464.00,117.5 464.20,117.5 464.40,117.5 464.60,117.5 464.80,117.5 465.00,117.5 465.20,117.5 465.40,117.5 465.60,117.5 465.80,117.5 466.00,117.5 466.20,117.5 466.40,117.5 466.60,117.5 466.80,117.5 467.00,117.5 467.20,117.4 467.40,117.2 467.60,116.9 467.70,116.8 467.80,116.8 468.00,117.1 468.20,117.3 468.40,117.4 468.60,117.4 468.80,117.4 469.00,117.5 469.20,117.5 469.40,117.5 469.60,117.5 469.80,117.5 470.00,117.4 470.20,117.1 470.40,115.6 470.60,113.6 470.70,113.2 470.80,113.6 471.00,115.6 471.20,117.0 471.40,117.4 471.60,117.4 471.80,117.3 472.00,117.2 472.20,117.2 472.40,117.2 472.60,117.3 472.80,117.3 473.00,117.3 473.20,117.3 473.40,117.4 473.60,117.4 473.80,117.3 474.00,117.4 474.20,117.4 474.40,117.4 474.60,117.3 474.80,117.3 475.00,117.3 475.20,117.3 475.40,117.0 475.60,115.0 475.80,109.9 476.00,106.5 476.20,109.9 476.40,115.0 476.60,117.0 476.80,117.3 477.00,117.3 477.20,117.3 477.40,117.3 477.60,117.3 477.80,117.2 478.00,117.2 478.20,117.0 478.40,116.7 478.60,116.3 478.80,116.0 479.00,116.0 479.20,116.1 479.40,116.3 479.60,116.6 479.80,116.8 480.00,116.9 480.20,117.0 480.40,117.1 480.60,117.1 480.80,117.2 481.00,117.2 481.20,117.2 481.40,116.8 481.60,115.6 481.80,113.4 482.00,112.2 482.20,113.4 482.40,115.5 482.60,116.7 482.80,117.1 483.00,117.1 483.20,117.1 483.40,117.2 483.60,117.2 483.80,117.3 484.00,117.2 484.20,117.1 484.40,116.9 484.60,116.6 484.80,116.1 485.00,115.6 485.20,115.1 485.40,114.8 485.50,114.8 485.60,114.8 485.80,115.0 486.00,115.5 486.20,116.1 486.40,116.5 486.60,116.8 486.80,116.9 487.00,116.6 487.20,116.2 487.40,115.5 487.60,114.8 487.80,114.3 488.00,114.1 488.20,114.3 488.40,114.9 488.60,115.6 488.80,116.2 489.00,116.6 489.20,116.9 489.40,116.8 489.60,116.5 489.80,116.0 490.00,115.5 490.20,115.0 490.40,114.6 490.50,114.5 490.60,114.6 490.80,114.9 491.00,115.5 491.20,116.1 491.40,116.5 491.60,116.8 491.80,117.0 492.00,117.2 492.20,117.3 492.40,117.2 492.60,117.2 492.80,117.1 493.00,116.0 493.20,109.6 493.40,103.1 493.60,109.6 493.80,116.0 494.00,115.4 494.20,110.9 494.30,109.8 494.40,110.9 494.60,115.3 494.80,114.9 495.00,103.0 495.20,91.0 495.40,103.1 495.60,114.9 495.80,114.5 496.00,106.1 496.10,103.9 496.20,106.1 496.40,114.5 496.60,114.6 496.80,100.3 497.00,85.8 497.20,100.3 497.40,114.6 497.60,113.7 497.80,102.8 497.90,100.0 498.00,102.7 498.20,113.6 498.40,114.1 498.60,98.0 498.80,81.7 499.00,98.1 499.20,114.2 499.40,114.4 499.60,107.5 499.70,105.8 499.80,107.3 500.00,114.1 500.20,115.3 500.40,112.3 500.60,110.3 500.80,112.3 501.00,115.5 501.20,116.9 501.40,117.2 501.60,117.2 501.80,117.2 502.00,117.2 502.20,116.9 502.40,114.4 502.60,109.2 502.70,108.1 502.80,109.2 503.00,114.3 503.20,116.8 503.40,116.5 503.60,114.4 503.80,111.5 503.90,111.0 504.00,111.5 504.20,114.3 504.40,116.4 504.60,117.0 504.80,116.8 505.00,113.5 505.20,104.6 505.30,102.6 505.40,104.6 505.60,113.4 505.80,112.1 506.00,106.9 506.20,112.2 506.40,114.8 506.60,102.4 506.80,89.8 507.00,102.4 507.20,114.8 507.40,111.7 507.60,106.0 507.80,111.7 508.00,115.8 508.20,109.1 508.40,102.1 508.60,109.1 508.80,115.9 509.00,112.7 509.20,108.0 509.40,112.6 509.60,113.5 509.80,105.0 509.90,103.0 510.00,105.1 510.20,113.6 510.40,116.3 510.60,115.5 510.80,114.1 511.00,112.5 511.20,111.5 511.30,111.3 511.40,111.5 511.60,112.5 511.80,114.0 512.00,115.3 512.20,116.0 512.40,115.1 512.60,113.9 512.80,112.8 513.00,112.4 513.20,112.8 513.40,113.9 513.60,115.2 513.80,116.2 514.00,116.8 514.20,116.8 514.40,113.8 514.60,107.8 514.70,106.6 514.80,107.9 515.00,113.9 515.20,116.7 515.40,116.5 515.60,115.7 515.80,114.7 516.00,113.9 516.20,113.5 516.40,113.9 516.60,114.7 516.80,115.7 517.00,116.5 517.20,116.7 517.40,115.4 517.60,113.5 517.70,113.2 517.80,113.5 518.00,115.4 518.20,116.7 518.40,116.8 518.60,116.4 518.80,116.0 519.00,115.5 519.20,115.2 519.40,115.0 519.50,115.0 519.60,115.0 519.80,115.2 520.00,115.6 520.20,116.0 520.40,116.4 520.60,116.6 520.80,116.4 521.00,116.1 521.20,115.9 521.40,115.8 521.50,115.7 521.60,115.7 521.80,115.9 522.00,116.1 522.20,116.4 522.40,116.6 522.60,116.8 522.80,117.0 523.00,117.1 523.20,117.2 523.40,117.2 523.60,117.3 523.80,117.3 524.00,117.2 524.20,117.1 524.40,117.1 524.60,117.1 524.80,117.2 525.00,117.2 525.20,117.2 525.40,117.1 525.60,117.0 525.80,116.9 526.00,116.8 526.20,116.8 526.40,116.9 526.60,116.9 526.80,116.9 527.00,116.9 527.20,117.0 527.40,117.1 527.60,117.2 527.80,117.3 528.00,117.3 528.20,117.2 528.40,117.2 528.60,117.2 528.80,117.2 529.00,117.3 529.20,117.3 529.40,117.3 529.60,117.3 529.80,117.3 530.00,117.3 530.20,117.2 530.40,117.2 530.60,117.2 530.80,117.2 531.00,117.2 531.20,117.3 531.40,117.2 531.60,117.2 531.80,117.2 532.00,117.1 532.20,117.1 532.40,117.1 532.60,117.1 532.80,117.2 533.00,117.2 533.20,117.2 533.40,117.2 533.60,117.2 533.80,117.3 534.00,117.3 534.20,117.3 534.40,117.3 534.60,117.3 534.80,117.3 535.00,117.2 535.20,117.2 535.40,117.1 535.60,117.1 535.80,117.0 536.00,116.9 536.20,116.7 536.40,116.2 536.60,115.3 536.80,114.2 537.00,113.0 537.20,112.3 537.30,112.2 537.40,112.3 537.60,113.0 537.80,114.2 538.00,115.3 538.20,116.2 538.40,116.7 538.60,116.9 538.80,116.8 539.00,116.6 539.20,116.4 539.40,116.3 539.50,116.3 539.60,116.3 539.80,116.5 540.00,116.7 540.20,116.9 540.40,117.1 540.60,117.1 540.80,117.2 541.00,117.2 541.20,117.3 541.40,117.3 541.60,117.3 541.80,117.3 542.00,117.3 542.20,117.3 542.40,117.3 542.60,117.3 542.80,117.2 543.00,117.2 543.20,117.2" fill="none" stroke="#1a1a1a" stroke-width="0.9" stroke-linejoin="round"/>
<polyline points="42.00,234.1 42.20,234.1 42.40,234.0 42.60,234.0 42.80,234.0 43.00,234.0 43.20,234.0 43.40,234.0 43.60,234.1 43.80,234.1 44.00,234.1 44.20,234.1 44.40,234.1 44.60,234.1 44.80,234.0 45.00,234.0 45.20,234.0 45.40,234.0 45.60,233.9 45.80,233.8 46.00,233.8 46.20,233.7 46.40,233.6 46.60,233.5 46.80,233.4 47.00,233.3 47.20,233.3 47.40,233.2 47.60,233.1 47.80,233.1 48.00,233.1 48.20,233.1 48.40,233.1 48.60,233.0 48.80,232.9 49.00,232.9 49.20,232.9 49.40,232.8 49.50,232.9 49.60,232.9 49.80,232.9 50.00,232.9 50.20,232.9 50.40,232.9 50.60,232.9 50.80,233.0 51.00,233.0 51.20,233.1 51.40,233.2 51.60,233.3 51.80,233.3 52.00,233.2 52.20,233.0 52.40,232.7 52.60,232.5 52.80,232.3 53.00,232.0 53.20,231.7 53.40,231.4 53.60,231.1 53.80,230.8 54.00,230.6 54.20,230.4 54.40,230.2 54.60,230.2 54.80,230.1 55.00,230.2 55.20,230.3 55.40,230.5 55.60,230.7 55.80,230.9 56.00,231.2 56.20,231.4 56.40,231.6 56.60,231.9 56.80,232.1 57.00,232.3 57.20,232.4 57.40,232.3 57.60,232.2 57.80,232.2 58.00,232.3 58.20,232.3 58.40,232.4 58.60,232.5 58.80,232.7 59.00,232.9 59.20,233.1 59.40,233.3 59.60,233.4 59.80,233.4 60.00,232.5 60.20,230.6 60.40,227.2 60.60,222.2 60.80,216.2 61.00,210.6 61.20,207.0 61.30,206.5 61.40,206.9 61.60,210.0 61.80,215.3 62.00,220.9 62.20,224.2 62.40,223.5 62.60,222.5 62.80,221.5 63.00,220.7 63.20,220.2 63.40,220.0 63.60,220.0 63.80,220.5 64.00,221.4 64.20,222.4 64.40,223.7 64.60,225.0 64.80,226.3 65.00,227.4 65.20,226.7 65.40,225.8 65.60,224.9 65.80,224.2 66.00,223.5 66.20,223.0 66.40,222.9 66.60,223.0 66.80,223.5 67.00,224.1 67.20,224.9 67.40,225.7 67.60,226.5 67.80,226.5 68.00,224.7 68.20,222.7 68.40,220.5 68.60,218.2 68.80,215.9 69.00,213.9 69.20,212.3 69.40,211.2 69.60,210.9 69.80,211.2 70.00,212.1 70.20,213.3 70.40,214.2 70.60,213.4 70.80,202.9 71.00,193.7 71.20,190.3 71.40,194.7 71.60,204.9 71.80,216.2 72.00,225.0 72.20,230.3 72.40,232.8 72.60,233.4 72.80,233.7 73.00,233.9 73.20,234.0 73.40,234.1 73.60,234.1 73.80,234.0 74.00,233.7 74.20,233.0 74.40,231.2 74.60,227.8 74.80,222.9 75.00,217.3 75.20,212.6 75.40,210.7 75.60,212.3 75.80,216.7 76.00,222.0 76.20,226.2 76.40,225.9 76.50,226.0 76.60,226.3 76.80,227.4 77.00,229.0 77.20,230.6 77.40,231.9 77.60,232.4 77.80,232.0 78.00,231.6 78.20,231.2 78.40,231.0 78.50,231.0 78.60,231.0 78.80,231.2 79.00,231.6 79.20,232.2 79.40,232.7 79.60,233.2 79.80,233.6 80.00,233.8 80.20,234.0 80.40,234.0 80.60,234.0 80.80,233.9 81.00,233.7 81.20,233.3 81.40,232.8 81.60,232.2 81.80,231.7 82.00,231.5 82.20,231.7 82.40,232.2 82.60,232.8 82.80,233.2 83.00,233.6 83.20,233.8 83.40,233.9 83.60,233.7 83.80,233.4 84.00,232.8 84.20,232.1 84.40,231.3 84.60,230.7 84.80,230.5 85.00,230.7 85.20,231.3 85.40,232.2 85.60,232.9 85.80,233.5 86.00,233.9 86.20,234.0 86.40,234.1 86.60,234.0 86.80,233.9 87.00,233.6 87.20,232.7 87.40,230.2 87.60,224.7 87.80,215.4 88.00,203.4 88.20,192.7 88.40,188.1 88.60,191.8 88.80,201.6 89.00,212.9 89.20,218.2 89.30,218.8 89.40,219.4 89.60,220.6 89.80,222.2 90.00,224.0 90.20,225.9 90.40,227.7 90.60,227.7 90.80,227.5 91.00,227.5 91.20,227.8 91.40,228.4 91.60,229.2 91.80,230.1 92.00,231.0 92.20,231.7 92.40,231.2 92.60,230.1 92.80,229.4 93.00,229.1 93.20,229.5 93.40,230.4 93.60,231.4 93.80,232.3 94.00,233.0 94.20,232.9 94.40,232.4 94.60,231.7 94.80,231.2 95.00,231.0 95.20,231.2 95.40,231.7 95.60,232.4 95.80,233.1 96.00,233.5 96.20,233.1 96.40,232.4 96.60,231.6 96.80,230.8 97.00,230.1 97.20,229.6 97.30,229.5 97.40,229.5 97.60,229.9 97.80,230.7 98.00,231.6 98.20,232.5 98.40,233.2 98.60,233.7 98.80,233.9 99.00,234.0 99.20,234.1 99.40,234.2 99.60,234.0 99.80,233.9 100.00,233.6 100.20,233.2 100.40,232.7 100.60,232.1 100.80,231.6 101.00,231.5 101.20,231.6 101.40,232.1 101.60,232.7 101.80,233.3 102.00,233.7 102.20,234.0 102.40,234.1 102.60,234.1 102.80,234.1 103.00,234.0 103.20,234.0 103.40,233.9 103.60,233.8 103.80,233.7 104.00,233.5 104.20,233.3 104.40,233.1 104.60,233.0 104.80,232.8 105.00,232.8 105.20,232.8 105.40,232.9 105.60,233.1 105.80,233.3 106.00,233.6 106.20,233.7 106.40,233.9 106.60,234.0 106.80,234.1 107.00,234.1 107.20,234.1 107.40,234.1 107.60,234.1 107.80,234.1 108.00,234.1 108.20,234.1 108.40,234.0 108.60,233.9 108.80,233.6 109.00,233.2 109.20,232.7 109.40,232.1 109.60,231.5 109.80,231.1 110.00,230.9 110.20,231.1 110.40,231.5 110.60,232.1 110.80,232.7 111.00,233.2 111.20,233.6 111.40,233.9 111.60,234.0 111.80,234.1 112.00,234.2 112.20,234.2 112.40,234.1 112.60,234.1 112.80,234.0 113.00,233.9 113.20,233.8 113.40,233.6 113.60,233.3 113.80,233.0 114.00,232.6 114.20,232.4 114.40,232.2 114.50,232.2 114.60,232.3 114.80,232.4 115.00,232.6 115.20,232.9 115.40,233.2 115.60,233.5 115.80,233.7 116.00,233.8 116.20,233.9 116.40,233.9 116.60,233.8 116.80,232.7 117.00,229.0 117.20,223.9 117.30,223.0 117.40,223.9 117.60,228.9 117.80,232.3 118.00,231.8 118.20,231.1 118.40,230.4 118.60,229.9 118.80,229.6 119.00,229.7 119.20,230.0 119.40,230.5 119.60,230.1 119.80,229.5 120.00,229.4 120.20,229.8 120.40,230.6 120.60,231.6 120.80,232.6 121.00,233.2 121.20,232.8 121.40,232.3 121.60,231.9 121.80,231.5 122.00,231.5 122.20,231.6 122.40,231.9 122.60,232.4 122.80,232.9 123.00,233.4 123.20,233.7 123.40,234.0 123.60,234.1 123.80,233.9 124.00,232.4 124.20,227.2 124.40,220.3 124.50,219.0 124.60,220.2 124.80,226.9 125.00,231.4 125.20,230.8 125.40,230.0 125.60,229.3 125.80,229.0 126.00,229.1 126.20,229.5 126.40,230.2 126.60,229.7 126.80,229.6 127.00,230.0 127.20,230.8 127.40,231.8 127.60,232.7 127.80,233.4 128.00,233.8 128.20,234.0 128.40,234.0 128.60,233.9 128.80,233.3 129.00,232.4 129.20,231.1 129.40,229.7 129.60,228.6 129.80,228.2 130.00,228.6 130.20,229.8 130.40,231.2 130.60,232.5 130.80,233.3 131.00,233.2 131.20,232.6 131.40,232.0 131.60,231.4 131.80,230.9 132.00,230.8 132.20,231.0 132.40,231.4 132.60,232.1 132.80,232.7 133.00,233.2 133.20,233.6 133.40,233.9 133.60,234.0 133.80,234.1 134.00,234.2 134.20,234.2 134.40,234.2 134.60,234.2 134.80,234.1 135.00,234.1 135.20,234.1 135.40,234.0 135.60,234.0 135.80,234.0 136.00,234.0 136.20,234.1 136.40,234.1 136.60,234.1 136.80,234.1 137.00,234.1 137.20,234.1 137.40,234.0 137.60,233.4 137.80,228.4 138.00,206.9 138.20,164.3 138.40,138.6 138.60,164.4 138.80,207.1 139.00,228.5 139.20,233.5 139.40,234.0 139.60,233.9 139.80,233.8 140.00,233.5 140.20,233.3 140.40,233.0 140.60,232.6 140.80,232.4 141.00,232.3 141.20,232.3 141.40,232.6 141.60,232.9 141.80,233.3 142.00,233.6 142.20,233.8 142.40,234.0 142.60,234.0 142.80,234.0 143.00,234.0 143.20,234.0 143.40,233.9 143.60,233.9 143.80,233.8 144.00,233.8 144.20,233.7 144.40,233.6 144.60,233.4 144.80,233.0 145.00,232.5 145.20,232.1 145.40,231.8 145.60,231.6 145.70,231.5 145.80,231.5 146.00,231.7 146.20,232.0 146.40,232.5 146.60,233.0 146.80,233.4 147.00,233.7 147.20,233.9 147.40,234.0 147.60,234.0 147.80,234.0 148.00,233.9 148.20,233.9 148.40,233.9 148.60,233.9 148.80,233.8 149.00,233.6 149.20,233.4 149.40,233.2 149.60,233.0 149.80,232.8 150.00,232.7 150.20,232.8 150.40,232.9 150.60,233.1 150.80,233.4 151.00,233.6 151.20,233.8 151.40,233.9 151.60,234.0 151.80,234.0 152.00,234.0 152.20,234.1 152.40,234.1 152.60,234.2 152.80,234.2 153.00,234.2 153.20,234.1 153.40,234.1 153.60,234.1 153.80,234.1 154.00,234.1 154.20,234.1 154.40,234.2 154.60,234.2 154.80,234.1 155.00,234.1 155.20,234.1 155.40,234.2 155.60,234.2 155.80,234.2 156.00,234.1 156.20,234.1 156.40,234.0 156.60,233.9 156.80,233.7 157.00,233.6 157.20,233.4 157.40,233.2 157.60,233.0 157.80,232.8 158.00,232.8 158.20,232.8 158.40,232.9 158.60,233.2 158.80,233.4 159.00,233.6 159.20,233.8 159.40,233.8 159.60,233.9 159.80,234.0 160.00,234.0 160.20,234.0 160.40,233.9 160.60,233.9 160.80,233.9 161.00,233.9 161.20,234.0 161.40,234.1 161.60,234.1 161.80,234.2 162.00,234.2 162.20,234.2 162.40,234.2 162.60,234.2 162.80,234.1 163.00,234.1 163.20,234.1 163.40,234.2 163.60,234.2 163.80,234.1 164.00,234.1 164.20,234.1 164.40,234.2 164.60,234.2 164.80,234.1 165.00,234.1 165.20,234.1 165.40,234.0 165.60,234.0 165.80,234.0 166.00,234.0 166.20,234.0 166.40,234.1 166.60,234.2 166.80,234.1 167.00,234.1 167.20,234.1 167.40,234.0 167.60,234.0 167.80,234.0 168.00,234.0 168.20,234.0 168.40,234.0 168.60,234.1 168.80,234.2 169.00,234.2 169.20,234.1 169.40,234.1 169.60,234.1 169.80,234.1 170.00,234.1 170.20,234.2 170.40,234.2 170.60,234.2 170.80,234.2 171.00,234.2 171.20,234.2 171.40,234.2 171.60,234.2 171.80,234.2 172.00,234.2 172.20,234.2 172.40,234.2 172.60,234.2 172.80,234.2 173.00,234.2 173.20,234.2 173.40,234.2 173.60,234.2 173.80,234.1 174.00,234.1 174.20,234.0 174.40,234.0 174.60,234.0 174.80,234.0 175.00,232.9 175.20,225.8 175.40,204.6 175.60,178.7 175.70,174.1 175.80,178.6 176.00,204.5 176.20,225.5 176.40,231.8 176.60,230.5 176.80,228.7 177.00,227.1 177.20,226.0 177.30,225.9 177.40,226.1 177.60,227.1 177.80,228.8 178.00,230.7 178.20,232.1 178.40,233.1 178.60,233.5 178.80,232.9 179.00,231.9 179.20,230.6 179.40,229.2 179.60,228.1 179.80,227.6 180.00,228.0 180.20,229.1 180.40,230.4 180.60,231.8 180.80,232.7 181.00,232.9 181.20,232.6 181.40,232.1 181.60,231.7 181.80,231.4 182.00,231.3 182.20,231.4 182.40,231.8 182.60,232.3 182.80,232.7 183.00,233.1 183.20,233.5 183.40,233.8 183.60,233.9 183.80,233.9 184.00,233.9 184.20,234.0 184.40,234.0 184.60,234.0 184.80,234.0 185.00,234.1 185.20,234.1 185.40,234.1 185.60,234.2 185.80,234.2 186.00,234.2 186.20,234.2 186.40,234.1 186.60,234.1 186.80,234.1 187.00,234.1 187.20,233.8 187.40,232.9 187.60,231.8 187.70,231.6 187.80,231.8 188.00,233.0 188.20,233.9 188.40,234.1 188.60,234.2 188.80,234.2 189.00,234.2 189.20,234.2 189.40,234.1 189.60,234.1 189.80,234.1 190.00,234.1 190.20,234.1 190.40,234.2 190.60,234.2 190.80,234.2 191.00,234.2 191.20,234.2 191.40,234.2 191.60,234.1 191.80,234.1 192.00,234.1 192.20,234.1 192.40,234.1 192.60,234.1 192.80,234.1 193.00,234.1 193.20,234.1 193.40,234.1 193.60,234.2 193.80,234.1 194.00,234.1 194.20,234.0 194.40,234.0 194.60,234.0 194.80,234.0 195.00,234.1 195.20,234.2 195.40,234.1 195.60,234.1 195.80,234.1 196.00,234.0 196.20,234.0 196.40,234.1 196.60,234.1 196.80,234.1 197.00,234.1 197.20,234.2 197.40,234.2 197.60,234.2 197.80,234.1 198.00,233.6 198.20,232.5 198.40,231.9 198.60,232.5 198.80,233.6 199.00,234.1 199.20,234.1 199.40,234.0 199.60,234.0 199.80,234.0 200.00,234.1 200.20,234.1 200.40,234.2 200.60,234.2 200.80,234.2 201.00,234.2 201.20,234.1 201.40,234.1 201.60,234.0 201.80,234.0 202.00,234.0 202.20,234.1 202.40,234.2 202.60,234.1 202.80,234.1 203.00,234.1 203.20,234.1 203.40,234.1 203.60,234.1 203.80,234.1 204.00,234.1 204.20,234.1 204.40,234.1 204.60,234.2 204.80,234.2 205.00,234.1 205.20,233.7 205.40,230.4 205.60,216.9 205.80,197.0 205.90,193.2 206.00,197.0 206.20,216.9 206.40,230.4 206.60,233.7 206.80,234.1 207.00,234.1 207.20,234.1 207.40,234.1 207.60,234.1 207.80,234.2 208.00,234.2 208.20,234.2 208.40,234.2 208.60,234.2 208.80,234.1 209.00,234.1 209.20,233.8 209.40,233.0 209.60,231.6 209.80,230.9 210.00,231.8 210.20,233.0 210.40,233.8 210.60,234.0 210.80,234.0 211.00,234.1 211.20,234.1 211.40,234.2 211.60,234.2 211.80,234.2 212.00,234.2 212.20,234.2 212.40,234.2 212.60,234.2 212.80,234.1 213.00,234.1 213.20,233.6 213.40,229.5 213.60,215.6 213.80,196.9 213.90,193.5 214.00,196.9 214.20,215.4 214.40,229.2 214.60,231.4 214.80,230.1 215.00,228.8 215.20,228.0 215.30,227.9 215.40,228.0 215.60,228.9 215.80,230.2 216.00,231.5 216.20,232.6 216.40,233.4 216.60,233.8 216.80,234.0 217.00,234.1 217.20,234.2 217.40,234.2 217.60,234.2 217.80,234.2 218.00,234.1 218.20,234.1 218.40,234.1 218.60,234.1 218.80,233.8 219.00,231.5 219.20,223.3 219.40,212.5 219.50,210.5 219.60,212.4 219.80,223.1 220.00,230.9 220.20,229.7 220.40,227.6 220.60,226.2 220.70,225.9 220.80,226.1 221.00,227.5 221.20,229.5 221.40,231.4 221.60,229.9 221.80,223.0 222.00,218.5 222.20,223.0 222.40,230.0 222.60,232.1 222.80,231.3 223.00,230.3 223.20,229.5 223.40,229.0 223.50,229.0 223.60,229.1 223.80,229.5 224.00,230.4 224.20,231.4 224.40,232.3 224.60,233.0 224.80,233.5 225.00,233.8 225.20,234.0 225.40,234.1 225.60,234.1 225.80,234.2 226.00,234.2 226.20,234.1 226.40,234.1 226.60,234.1 226.80,234.1 227.00,234.1 227.20,234.2 227.40,234.2 227.60,234.1 227.80,234.1 228.00,234.0 228.20,234.0 228.40,234.0 228.60,234.1 228.80,234.1 229.00,234.1 229.20,234.1 229.40,234.1 229.60,234.2 229.80,234.1 230.00,234.0 230.20,232.8 230.40,225.3 230.60,202.9 230.80,175.4 230.90,170.6 231.00,175.4 231.20,202.7 231.40,225.0 231.60,232.0 231.80,231.3 232.00,230.4 232.20,229.5 232.40,229.0 232.50,228.9 232.60,229.0 232.80,229.4 233.00,230.3 233.20,231.3 233.40,232.3 233.60,233.1 233.80,233.6 234.00,233.9 234.20,234.1 234.40,234.1 234.60,234.1 234.80,234.2 235.00,234.1 235.20,233.9 235.40,232.4 235.60,227.8 235.80,222.3 235.90,221.3 236.00,222.3 236.20,227.8 236.40,232.3 236.60,233.8 236.80,234.1 237.00,234.1 237.20,234.2 237.40,234.2 237.60,234.2 237.80,234.2 238.00,234.2 238.20,234.1 238.40,234.0 238.60,233.9 238.80,233.8 239.00,233.5 239.20,233.3 239.40,233.0 239.60,232.7 239.80,232.6 240.00,232.5 240.20,232.5 240.40,232.7 240.60,232.9 240.80,233.2 241.00,233.4 241.20,233.7 241.40,233.8 241.60,234.0 241.80,234.0 242.00,234.1 242.20,234.1 242.40,234.1 242.60,234.1 242.80,234.1 243.00,234.2 243.20,234.2 243.40,234.2 243.60,234.2 243.80,234.1 244.00,234.1 244.20,234.1 244.40,234.1 244.60,234.1 244.80,234.1 245.00,234.2 245.20,234.1 245.40,234.1 245.60,234.0 245.80,234.1 246.00,234.1 246.20,234.1 246.40,234.1 246.60,234.2 246.80,234.2 247.00,234.2 247.20,234.2 247.40,234.1 247.60,234.1 247.80,234.0 248.00,234.0 248.20,234.0 248.40,233.9 248.60,233.4 248.80,232.2 249.00,231.5 249.20,232.3 249.40,233.5 249.60,234.0 249.80,234.1 250.00,234.1 250.20,234.1 250.40,234.2 250.60,234.2 250.80,234.2 251.00,234.1 251.20,234.1 251.40,233.8 251.60,232.2 251.80,228.7 252.00,226.5 252.20,228.8 252.40,232.2 252.60,233.7 252.80,234.0 253.00,233.9 253.20,233.9 253.40,233.9 253.60,233.9 253.80,234.0 254.00,234.0 254.20,234.0 254.40,234.1 254.60,234.2 254.80,234.1 255.00,234.1 255.20,234.0 255.40,234.1 255.60,234.1 255.80,234.1 256.00,234.2 256.20,234.2 256.40,234.2 256.60,234.2 256.80,234.2 257.00,234.2 257.20,234.2 257.40,234.2 257.60,234.2 257.80,234.2 258.00,234.2 258.20,234.2 258.40,234.2 258.60,234.2 258.80,234.2 259.00,234.2 259.20,234.2 259.40,234.2 259.60,234.1 259.80,234.1 260.00,233.4 260.20,230.9 260.40,227.7 260.50,227.1 260.60,227.7 260.80,230.9 261.00,233.4 261.20,234.1 261.40,234.2 261.60,234.2 261.80,234.1 262.00,234.1 262.20,234.1 262.40,234.0 262.60,233.9 262.80,233.7 263.00,233.5 263.20,233.2 263.40,232.9 263.60,232.7 263.80,232.6 264.00,232.4 264.20,232.5 264.40,232.6 264.60,232.9 264.80,233.2 265.00,233.5 265.20,233.8 265.40,233.9 265.60,234.0 265.80,234.0 266.00,234.1 266.20,234.1 266.40,234.1 266.60,234.2 266.80,234.2 267.00,234.2 267.20,234.2 267.40,234.2 267.60,234.2 267.80,234.1 268.00,234.1 268.20,234.1 268.40,234.1 268.60,234.1 268.80,234.2 269.00,234.2 269.20,234.2 269.40,234.2 269.60,234.2 269.80,234.2 270.00,234.2 270.20,234.2 270.40,234.2 270.60,234.2 270.80,234.1 271.00,234.1 271.20,234.1 271.40,234.1 271.60,234.1 271.80,233.9 272.00,233.0 272.20,230.8 272.40,225.9 272.60,217.8 272.80,207.5 273.00,198.3 273.20,194.6 273.40,198.1 273.60,207.0 273.80,217.0 274.00,224.8 274.20,227.4 274.40,226.6 274.60,226.0 274.80,225.8 275.00,226.1 275.20,227.0 275.40,228.2 275.60,229.5 275.80,230.7 276.00,231.7 276.20,232.0 276.40,231.6 276.60,231.3 276.80,231.0 277.00,231.0 277.20,231.1 277.40,231.5 277.60,231.9 277.80,232.4 278.00,232.9 278.20,233.3 278.40,233.6 278.60,233.9 278.80,234.0 279.00,234.1 279.20,234.1 279.40,234.1 279.60,234.1 279.80,234.1 280.00,234.2 280.20,234.2 280.40,234.1 280.60,234.1 280.80,234.0 281.00,234.0 281.20,234.0 281.40,234.0 281.60,234.0 281.80,234.0 282.00,234.0 282.20,234.0 282.40,234.0 282.60,234.0 282.80,234.0 283.00,234.0 283.20,234.1 283.40,234.1 283.60,234.1 283.80,234.2 284.00,234.2 284.20,234.2 284.40,234.2 284.60,234.2 284.80,234.2 285.00,234.1 285.20,234.1 285.40,234.1 285.60,234.1 285.80,234.1 286.00,234.2 286.20,234.2 286.40,234.2 286.60,234.2 286.80,234.2 287.00,234.2 287.20,234.2 287.40,234.2 287.60,234.1 287.80,234.0 288.00,233.8 288.20,233.5 288.40,232.9 288.60,232.0 288.80,231.2 289.00,230.9 289.20,231.2 289.40,232.0 289.60,232.8 289.80,233.5 290.00,233.9 290.20,234.1 290.40,234.2 290.60,234.2 290.80,234.2 291.00,234.2 291.20,234.2 291.40,234.1 291.60,234.0 291.80,231.4 292.00,217.0 292.20,202.4 292.40,216.9 292.60,227.3 292.80,208.4 292.90,203.5 293.00,208.4 293.20,227.3 293.40,216.9 293.60,202.3 293.80,216.9 294.00,231.4 294.20,234.0 294.40,234.2 294.60,234.2 294.80,234.2 295.00,234.2 295.20,234.1 295.40,234.1 295.60,234.0 295.80,233.8 296.00,233.4 296.20,232.5 296.40,231.4 296.60,230.5 296.80,230.1 297.00,230.5 297.20,231.4 297.40,232.5 297.60,233.4 297.80,233.8 298.00,234.0 298.20,234.1 298.40,234.1 298.60,234.0 298.80,234.0 299.00,234.0 299.20,234.0 299.40,234.0 299.60,234.0 299.80,234.0 300.00,234.1 300.20,234.1 300.40,234.1 300.60,234.2 300.80,234.2 301.00,234.1 301.20,234.1 301.40,234.0 301.60,233.8 301.80,233.6 302.00,233.4 302.20,233.2 302.40,233.0 302.60,232.7 302.80,232.5 303.00,232.4 303.20,232.4 303.40,232.6 303.60,232.9 303.80,233.2 304.00,233.5 304.20,233.8 304.40,233.9 304.60,234.0 304.80,234.0 305.00,234.0 305.20,234.0 305.40,234.1 305.60,234.1 305.80,234.1 306.00,234.1 306.20,234.1 306.40,234.2 306.60,234.2 306.80,234.2 307.00,234.2 307.20,234.1 307.40,234.1 307.60,234.0 307.80,234.0 308.00,234.1 308.20,234.1 308.40,234.2 308.60,234.1 308.80,234.1 309.00,234.1 309.20,234.1 309.40,234.2 309.60,234.2 309.80,234.1 310.00,234.1 310.20,234.1 310.40,234.1 310.60,234.1 310.80,234.1 311.00,234.1 311.20,234.1 311.40,234.2 311.60,234.2 311.80,234.2 312.00,234.2 312.20,234.2 312.40,234.2 312.60,234.1 312.80,233.9 313.00,232.7 313.20,230.0 313.40,228.1 313.60,229.8 313.80,232.5 314.00,233.7 314.20,233.9 314.40,233.9 314.60,233.9 314.80,233.9 315.00,233.9 315.20,232.3 315.40,222.4 315.60,212.3 315.80,222.3 316.00,232.0 316.20,223.7 316.40,213.0 316.60,223.8 316.80,232.6 317.00,223.7 317.20,212.8 317.40,223.5 317.60,231.8 317.80,222.1 318.00,212.1 318.20,222.3 318.40,232.3 318.60,234.0 318.80,234.0 319.00,234.0 319.20,234.0 319.40,234.1 319.60,234.2 319.80,234.2 320.00,234.1 320.20,234.0 320.40,234.0 320.60,234.0 320.80,234.0 321.00,233.9 321.20,233.8 321.40,233.5 321.60,233.2 321.80,232.8 322.00,232.2 322.20,231.3 322.40,230.3 322.60,229.3 322.80,228.2 323.00,227.3 323.20,226.5 323.40,226.1 323.50,225.9 323.60,225.9 323.80,226.0 324.00,226.4 324.20,226.4 324.40,224.6 324.60,222.7 324.80,221.2 325.00,220.1 325.20,219.8 325.40,220.2 325.60,221.3 325.80,222.9 326.00,224.7 326.20,226.5 326.40,226.8 326.60,225.9 326.80,225.2 327.00,224.7 327.20,224.5 327.40,224.7 327.60,225.4 327.80,226.3 328.00,227.4 328.20,228.6 328.40,229.6 328.60,229.9 328.80,229.6 329.00,229.2 329.20,229.0 329.40,228.9 329.50,229.0 329.60,229.0 329.80,229.1 330.00,229.4 330.20,229.9 330.40,230.4 330.60,231.0 330.80,231.5 331.00,231.9 331.20,232.3 331.40,232.2 331.60,232.1 331.80,231.8 332.00,231.6 332.20,231.5 332.40,231.3 332.50,231.3 332.60,231.3 332.80,231.4 333.00,231.5 333.20,231.8 333.40,232.2 333.60,232.5 333.80,232.8 334.00,233.2 334.20,233.4 334.40,233.6 334.60,233.7 334.80,233.8 335.00,233.9 335.20,234.0 335.40,234.1 335.60,234.1 335.80,234.1 336.00,234.0 336.20,234.1 336.40,234.1 336.60,234.2 336.80,234.2 337.00,234.2 337.20,234.2 337.40,234.2 337.60,234.1 337.80,234.1 338.00,234.1 338.20,234.1 338.40,234.1 338.60,234.1 338.80,234.1 339.00,234.1 339.20,234.1 339.40,234.1 339.60,234.1 339.80,234.1 340.00,234.2 340.20,234.2 340.40,234.2 340.60,234.1 340.80,234.1 341.00,234.1 341.20,234.0 341.40,234.0 341.60,234.0 341.80,234.0 342.00,234.0 342.20,234.0 342.40,234.0 342.60,234.0 342.80,234.0 343.00,234.0 343.20,234.0 343.40,233.7 343.60,232.6 343.80,231.2 343.90,230.9 344.00,231.2 344.20,232.7 344.40,233.8 344.60,234.1 344.80,234.2 345.00,234.1 345.20,234.1 345.40,234.2 345.60,234.2 345.80,234.2 346.00,234.2 346.20,234.2 346.40,234.1 346.60,234.0 346.80,233.2 347.00,230.3 347.20,226.5 347.30,225.8 347.40,226.4 347.60,230.1 347.80,232.9 348.00,233.7 348.20,233.8 348.40,233.9 348.60,233.9 348.80,234.0 349.00,234.0 349.20,234.1 349.40,234.1 349.60,234.1 349.80,234.1 350.00,234.1 350.20,234.1 350.40,234.1 350.60,234.2 350.80,234.2 351.00,234.2 351.20,234.1 351.40,234.1 351.60,234.0 351.80,234.0 352.00,234.0 352.20,234.1 352.40,234.2 352.60,234.1 352.80,234.1 353.00,234.1 353.20,234.1 353.40,234.1 353.60,234.1 353.80,234.2 354.00,234.2 354.20,234.2 354.40,234.2 354.60,234.2 354.80,234.2 355.00,234.2 355.20,234.2 355.40,234.2 355.60,234.1 355.80,233.8 356.00,231.7 356.20,227.2 356.40,224.3 356.60,227.2 356.80,231.7 357.00,233.8 357.20,234.1 357.40,234.1 357.60,234.1 357.80,234.0 358.00,234.0 358.20,234.0 358.40,234.0 358.60,234.1 358.80,234.2 359.00,234.1 359.20,234.1 359.40,234.1 359.60,234.2 359.80,234.2 360.00,234.1 360.20,234.1 360.40,234.1 360.60,234.1 360.80,234.2 361.00,234.2 361.20,234.1 361.40,234.1 361.60,234.1 361.80,234.1 362.00,234.1 362.20,234.1 362.40,234.1 362.60,234.1 362.80,234.1 363.00,234.2 363.20,234.1 363.40,234.1 363.60,234.1 363.80,234.1 364.00,234.1 364.20,234.2 364.40,234.2 364.60,234.2 364.80,234.2 365.00,234.2 365.20,234.1 365.40,234.1 365.60,234.1 365.80,234.1 366.00,234.1 366.20,234.1 366.40,234.1 366.60,234.1 366.80,233.8 367.00,232.2 367.20,227.2 367.40,221.2 367.50,220.1 367.60,221.2 367.80,227.2 368.00,232.1 368.20,232.7 368.40,231.9 368.60,231.0 368.80,230.3 369.00,230.0 369.20,230.3 369.40,231.0 369.60,231.9 369.80,232.8 370.00,233.4 370.20,233.8 370.40,234.0 370.60,234.1 370.80,234.0 371.00,233.9 371.20,233.5 371.40,233.0 371.60,232.3 371.80,231.7 372.00,231.5 372.20,231.7 372.40,232.4 372.60,233.0 372.80,233.5 373.00,233.5 373.20,231.9 373.40,229.2 373.60,227.7 373.80,229.3 374.00,232.0 374.20,233.6 374.40,234.0 374.60,234.1 374.80,234.1 375.00,234.2 375.20,234.1 375.40,234.1 375.60,234.1 375.80,234.1 376.00,234.1 376.20,234.1 376.40,234.2 376.60,234.2 376.80,234.2 377.00,234.2 377.20,234.2 377.40,234.2 377.60,234.2 377.80,234.1 378.00,234.1 378.20,234.0 378.40,233.9 378.60,233.8 378.80,233.7 379.00,233.5 379.20,233.2 379.40,232.9 379.60,232.7 379.80,232.5 380.00,232.5 380.20,232.5 380.40,232.7 380.60,233.0 380.80,233.3 381.00,233.5 381.20,233.7 381.40,233.8 381.60,233.9 381.80,234.0 382.00,234.2 382.20,234.1 382.40,234.1 382.60,234.1 382.80,234.1 383.00,234.2 383.20,234.2 383.40,234.2 383.60,234.2 383.80,234.1 384.00,234.1 384.20,234.0 384.40,233.9 384.60,233.8 384.80,233.7 385.00,233.5 385.20,233.2 385.40,232.8 385.60,232.5 385.80,232.4 386.00,232.2 386.20,232.2 386.40,232.3 386.60,232.6 386.80,232.8 387.00,233.2 387.20,233.5 387.40,233.7 387.60,233.9 387.80,233.9 388.00,234.0 388.20,234.0 388.40,233.9 388.60,233.6 388.80,233.0 389.00,232.1 389.20,231.2 389.40,230.6 389.50,230.5 389.60,230.5 389.80,231.1 390.00,232.0 390.20,232.8 390.40,233.4 390.60,232.6 390.80,228.0 391.00,221.2 391.10,219.9 391.20,221.2 391.40,228.0 391.60,232.6 391.80,233.7 392.00,233.9 392.20,233.8 392.40,233.8 392.60,233.7 392.80,233.6 393.00,233.6 393.20,233.6 393.40,233.3 393.60,230.8 393.80,220.6 394.00,205.4 394.10,202.6 394.20,205.5 394.40,220.7 394.60,231.0 394.80,233.6 395.00,233.9 395.20,233.8 395.40,233.5 395.60,231.5 395.80,224.9 396.00,216.0 396.10,214.5 396.20,216.1 396.40,224.9 396.60,231.6 396.80,233.5 397.00,233.4 397.20,233.0 397.40,232.5 397.60,232.0 397.80,231.5 398.00,231.3 398.20,231.5 398.40,231.9 398.60,232.4 398.80,232.9 399.00,233.3 399.20,233.5 399.40,233.6 399.60,233.7 399.80,233.7 400.00,233.7 400.20,233.6 400.40,233.6 400.60,233.6 400.80,233.6 401.00,233.6 401.20,233.6 401.40,233.6 401.60,233.5 401.80,233.5 402.00,233.5 402.20,233.4 402.40,233.5 402.60,233.5 402.80,233.6 403.00,233.6 403.20,233.5 403.40,233.4 403.60,233.4 403.80,233.4 404.00,233.5 404.20,233.5 404.40,233.5 404.60,233.6 404.80,233.5 405.00,233.5 405.20,233.5 405.40,233.5 405.60,233.5 405.80,233.5 406.00,233.5 406.20,233.4 406.40,233.4 406.60,233.4 406.80,233.3 407.00,233.1 407.20,232.6 407.40,232.1 407.60,231.6 407.80,231.2 408.00,230.9 408.20,231.1 408.40,231.5 408.60,232.0 408.80,232.5 409.00,232.9 409.20,233.1 409.40,233.2 409.60,233.2 409.80,233.2 410.00,233.1 410.20,233.0 410.40,232.8 410.60,232.4 410.80,232.1 411.00,232.0 411.20,232.1 411.40,232.4 411.60,232.7 411.80,232.9 412.00,233.1 412.20,233.1 412.40,233.1 412.60,233.1 412.80,232.9 413.00,232.6 413.20,231.8 413.40,230.7 413.60,229.4 413.80,228.6 413.90,228.4 414.00,228.5 414.20,229.2 414.40,230.5 414.60,231.6 414.80,232.4 415.00,232.9 415.20,233.1 415.40,233.2 415.60,233.2 415.80,233.1 416.00,233.0 416.20,232.9 416.40,232.9 416.60,232.9 416.80,232.9 417.00,232.8 417.20,232.1 417.40,229.7 417.60,226.4 417.70,225.9 417.80,226.5 418.00,229.8 418.20,232.2 418.40,232.9 418.60,233.0 418.80,233.0 419.00,233.0 419.20,233.0 419.40,233.1 419.60,233.0 419.80,232.5 420.00,230.2 420.20,223.6 420.40,215.6 420.50,214.3 420.60,215.8 420.80,223.9 421.00,230.4 421.20,232.2 421.40,231.8 421.60,231.4 421.80,231.1 422.00,231.0 422.20,231.1 422.40,231.4 422.60,231.9 422.80,232.3 423.00,232.6 423.20,232.7 423.40,232.8 423.60,232.8 423.80,232.8 424.00,232.7 424.20,232.7 424.40,232.7 424.60,232.7 424.80,232.8 425.00,232.8 425.20,232.9 425.40,232.9 425.60,232.8 425.80,232.8 426.00,232.7 426.20,232.7 426.40,232.7 426.60,232.7 426.80,232.7 427.00,232.7 427.20,232.7 427.40,232.7 427.60,232.7 427.80,232.7 428.00,232.7 428.20,232.7 428.40,232.7 428.60,232.7 428.80,232.7 429.00,232.6 429.20,232.6 429.40,232.6 429.60,232.7 429.80,232.7 430.00,232.8 430.20,232.7 430.40,232.7 430.60,232.7 430.80,232.6 431.00,232.6 431.20,232.6 431.40,232.6 431.60,232.6 431.80,232.6 432.00,232.6 432.20,232.6 432.40,232.6 432.60,232.6 432.80,232.6 433.00,232.6 433.20,232.6 433.40,232.5 433.60,232.5 433.80,232.5 434.00,232.5 434.20,232.5 434.40,232.4 434.60,232.4 434.80,232.4 435.00,232.4 435.20,232.3 435.40,232.2 435.60,231.9 435.80,231.1 436.00,230.1 436.20,228.9 436.40,228.1 436.50,228.0 436.60,228.0 436.80,228.8 437.00,230.0 437.20,231.0 437.40,230.5 437.60,223.7 437.80,210.1 438.00,201.9 438.20,210.1 438.40,223.7 438.60,230.5 438.80,231.3 439.00,230.9 439.20,230.4 439.40,230.0 439.50,229.9 439.60,229.9 439.80,230.2 440.00,230.7 440.20,231.2 440.40,231.7 440.60,232.0 440.80,232.2 441.00,232.4 441.20,232.1 441.40,230.8 441.60,227.8 441.80,225.9 442.00,227.8 442.20,230.8 442.40,232.1 442.60,232.3 442.80,232.3 443.00,232.3 443.20,232.3 443.40,232.3 443.60,232.3 443.80,232.2 444.00,232.2 444.20,232.2 444.40,232.1 444.60,232.1 444.80,232.0 445.00,231.8 445.20,230.7 445.40,228.1 445.60,225.2 445.70,224.7 445.80,225.2 446.00,228.2 446.20,230.9 446.40,232.0 446.60,232.1 446.80,231.9 447.00,231.6 447.20,231.2 447.40,231.0 447.50,230.9 447.60,230.9 447.80,231.1 448.00,231.4 448.20,231.7 448.40,231.9 448.60,232.1 448.80,232.1 449.00,232.1 449.20,232.1 449.40,232.1 449.60,232.1 449.80,232.0 450.00,231.8 450.20,230.3 450.40,225.9 450.60,220.5 450.70,219.5 450.80,220.4 451.00,225.8 451.20,230.2 451.40,231.7 451.60,231.8 451.80,231.5 452.00,230.9 452.20,230.3 452.40,229.9 452.50,229.9 452.60,230.0 452.80,230.3 453.00,230.9 453.20,231.4 453.40,231.7 453.60,231.8 453.80,231.5 454.00,230.9 454.20,229.9 454.40,228.6 454.60,227.4 454.80,226.9 455.00,227.4 455.20,228.6 455.40,229.9 455.60,230.9 455.80,231.5 456.00,231.8 456.20,231.8 456.40,231.7 456.60,231.6 456.80,231.5 457.00,231.5 457.20,231.5 457.40,231.5 457.60,231.6 457.80,231.6 458.00,231.7 458.20,231.7 458.40,231.7 458.60,231.8 458.80,231.9 459.00,231.8 459.20,231.7 459.40,231.7 459.60,231.7 459.80,231.7 460.00,231.8 460.20,231.8 460.40,231.8 460.60,231.8 460.80,231.8 461.00,231.8 461.20,231.8 461.40,231.7 461.60,231.7 461.80,231.7 462.00,231.7 462.20,231.7 462.40,231.7 462.60,231.7 462.80,231.7 463.00,231.7 463.20,231.7 463.40,231.7 463.60,231.7 463.80,231.7 464.00,231.7 464.20,231.6 464.40,231.6 464.60,231.5 464.80,231.6 465.00,231.6 465.20,231.5 465.40,231.4 465.60,231.3 465.80,231.2 466.00,231.2 466.20,231.2 466.40,231.2 466.60,231.3 466.80,231.4 467.00,231.5 467.20,231.5 467.40,231.4 467.60,231.3 467.80,230.9 468.00,230.4 468.20,229.8 468.40,229.4 468.50,229.3 468.60,229.3 468.80,229.7 469.00,230.2 469.20,230.8 469.40,231.2 469.60,231.2 469.80,229.5 470.00,225.9 470.20,223.5 470.40,225.8 470.60,229.4 470.80,231.1 471.00,231.4 471.20,231.5 471.40,231.4 471.60,231.4 471.80,231.4 472.00,231.3 472.20,231.3 472.40,231.2 472.60,231.1 472.80,231.0 473.00,231.0 473.20,231.0 473.40,231.0 473.60,231.1 473.80,231.1 474.00,231.2 474.20,231.2 474.40,231.3 474.60,231.3 474.80,231.2 475.00,231.1 475.20,230.7 475.40,228.0 475.60,219.9 475.80,210.1 475.90,208.4 476.00,210.1 476.20,220.0 476.40,228.0 476.60,230.7 476.80,230.7 477.00,230.5 477.20,230.2 477.40,230.0 477.50,230.0 477.60,230.0 477.80,230.1 478.00,230.4 478.20,230.6 478.40,230.8 478.60,230.6 478.80,230.0 479.00,229.2 479.20,228.2 479.40,227.5 479.50,227.5 479.60,227.5 479.80,228.2 480.00,229.1 480.20,230.0 480.40,230.6 480.60,230.7 480.80,230.4 481.00,229.7 481.20,229.0 481.40,228.6 481.50,228.5 481.60,228.5 481.80,229.0 482.00,229.7 482.20,230.4 482.40,230.8 482.60,230.5 482.80,229.8 483.00,228.7 483.20,227.4 483.40,226.6 483.50,226.4 483.60,226.5 483.80,227.3 484.00,228.6 484.20,229.7 484.40,230.5 484.60,230.7 484.80,230.1 485.00,229.3 485.20,228.3 485.40,227.7 485.50,227.7 485.60,227.8 485.80,228.5 486.00,229.4 486.20,230.2 486.40,230.7 486.60,230.5 486.80,229.9 487.00,228.9 487.20,227.8 487.40,227.0 487.50,226.9 487.60,227.1 487.80,227.8 488.00,228.9 488.20,229.9 488.40,230.6 488.60,230.8 488.80,230.4 489.00,229.7 489.20,229.0 489.40,228.4 489.50,228.3 489.60,228.4 489.80,228.9 490.00,229.6 490.20,230.3 490.40,230.8 490.60,230.6 490.80,229.9 491.00,228.9 491.20,227.8 491.40,227.1 491.50,226.9 491.60,227.0 491.80,227.8 492.00,228.9 492.20,229.9 492.40,230.6 492.60,230.9 492.80,229.4 493.00,220.5 493.20,211.4 493.40,220.4 493.60,229.4 493.80,230.3 494.00,226.2 494.20,222.0 494.40,226.2 494.60,230.4 494.80,228.4 495.00,213.3 495.20,198.0 495.40,213.3 495.60,228.3 495.80,227.6 496.00,216.7 496.10,213.9 496.20,216.7 496.40,227.5 496.60,227.5 496.80,209.0 497.00,190.2 497.20,209.0 497.40,227.5 497.60,226.3 497.80,211.7 497.90,208.0 498.00,211.8 498.20,226.5 498.40,229.5 498.60,217.0 498.80,189.4 498.90,183.4 499.00,189.5 499.20,217.1 499.40,229.3 499.60,224.0 499.80,217.9 500.00,224.0 500.20,229.9 500.40,229.8 500.60,227.5 500.80,226.0 501.00,227.5 501.20,229.9 501.40,230.9 501.60,231.1 501.80,231.1 502.00,231.1 502.20,231.0 502.40,229.4 502.60,222.7 502.80,217.1 503.00,222.7 503.20,229.3 503.40,230.3 503.60,227.9 503.80,224.6 503.90,224.0 504.00,224.6 504.20,227.9 504.40,230.3 504.60,230.7 504.80,225.8 505.00,212.8 505.10,209.7 505.20,212.8 505.40,225.7 505.60,228.4 505.80,220.1 505.90,218.0 506.00,220.1 506.20,228.3 506.40,227.8 506.60,210.6 506.80,193.3 507.00,210.7 507.20,227.8 507.40,223.7 507.60,216.0 507.80,223.7 508.00,229.2 508.20,219.7 508.40,210.0 508.60,219.7 508.80,229.2 509.00,225.1 509.20,218.9 509.40,225.2 509.60,229.3 509.80,220.5 510.00,211.4 510.20,220.4 510.40,229.2 510.60,229.0 510.80,227.3 511.00,225.4 511.20,224.1 511.30,224.0 511.40,224.2 511.60,225.4 511.80,227.2 512.00,228.8 512.20,228.8 512.40,227.5 512.60,226.3 512.80,225.9 513.00,226.4 513.20,227.6 513.40,229.0 513.60,230.1 513.80,230.7 514.00,230.9 514.20,229.0 514.40,223.0 514.60,218.3 514.80,222.9 515.00,228.9 515.20,230.1 515.40,229.1 515.60,227.9 515.80,226.8 516.00,226.3 516.20,226.8 516.40,228.0 516.60,229.2 516.80,230.1 517.00,230.7 517.20,231.0 517.40,230.6 517.60,229.2 517.80,226.7 518.00,225.3 518.20,226.7 518.40,229.2 518.60,230.6 518.80,230.6 519.00,230.1 519.20,229.4 519.40,228.7 519.60,228.1 519.80,227.9 520.00,228.2 520.20,228.7 520.40,229.4 520.60,230.0 520.80,230.5 521.00,230.6 521.20,230.2 521.40,229.7 521.60,229.1 521.80,228.6 522.00,228.4 522.20,228.6 522.40,229.1 522.60,229.7 522.80,230.3 523.00,230.6 523.20,230.8 523.40,230.9 523.60,230.9 523.80,231.0 524.00,231.0 524.20,231.1 524.40,231.1 524.60,231.0 524.80,230.9 525.00,230.8 525.20,230.7 525.40,230.3 525.60,229.8 525.80,229.2 526.00,228.7 526.20,228.3 526.40,228.2 526.60,228.3 526.80,228.7 527.00,229.3 527.20,229.8 527.40,230.3 527.60,230.7 527.80,230.9 528.00,231.0 528.20,231.1 528.40,231.1 528.60,231.1 528.80,231.1 529.00,231.0 529.20,231.0 529.40,230.9 529.60,230.8 529.80,230.8 530.00,230.8 530.20,230.7 530.40,230.8 530.60,230.8 530.80,230.9 531.00,231.0 531.20,231.0 531.40,231.1 531.60,231.2 531.80,231.2 532.00,231.2 532.20,231.2 532.40,231.2 532.60,231.2 532.80,231.1 533.00,231.1 533.20,231.1 533.40,231.0 533.60,231.0 533.80,231.0 534.00,231.0 534.20,231.0 534.40,231.0 534.60,230.9 534.80,230.8 535.00,230.5 535.20,230.2 535.40,230.0 535.50,230.0 535.60,230.0 535.80,230.2 536.00,230.5 536.20,230.7 536.40,230.0 536.60,228.6 536.80,226.5 537.00,224.2 537.20,222.7 537.30,222.5 537.40,222.7 537.60,224.2 537.80,226.4 538.00,228.5 538.20,229.8 538.40,229.9 538.60,229.5 538.80,229.1 539.00,229.0 539.20,229.1 539.40,229.5 539.60,229.9 539.80,230.4 540.00,230.7 540.20,230.9 540.40,231.0 540.60,231.0 540.80,231.0 541.00,230.9 541.20,230.8 541.40,230.7 541.50,230.7 541.60,230.7 541.80,230.8 542.00,230.9 542.20,231.0 542.40,231.0 542.60,231.0 542.80,231.0 543.00,231.0 543.20,231.1" fill="none" stroke="#ff2a2a" stroke-width="0.95" stroke-linejoin="round"/>
<polyline points="42.00,350.2 42.20,350.3 42.40,350.3 42.60,350.2 42.80,350.2 43.00,350.2 43.20,350.2 43.40,350.2 43.60,350.2 43.80,350.3 44.00,350.3 44.20,350.2 44.40,350.2 44.60,350.2 44.80,350.2 45.00,350.3 45.20,350.2 45.40,350.2 45.60,350.1 45.80,350.1 46.00,350.1 46.20,350.1 46.40,350.1 46.60,350.1 46.80,350.1 47.00,350.0 47.20,350.0 47.40,349.9 47.60,349.9 47.80,349.8 48.00,349.8 48.20,349.7 48.40,349.6 48.60,349.4 48.80,349.3 49.00,349.2 49.20,349.2 49.40,349.2 49.60,349.2 49.80,349.2 50.00,349.2 50.20,349.2 50.40,349.2 50.60,349.2 50.80,349.2 51.00,349.2 51.20,349.2 51.40,349.2 51.60,349.0 51.80,348.6 52.00,348.1 52.20,347.5 52.40,346.8 52.60,346.0 52.80,345.3 53.00,344.5 53.20,343.6 53.40,342.8 53.60,342.0 53.80,341.5 54.00,341.1 54.20,340.9 54.30,340.8 54.40,340.8 54.60,341.1 54.80,341.5 55.00,342.1 55.20,342.9 55.40,343.7 55.60,344.5 55.80,345.3 56.00,346.1 56.20,346.8 56.40,347.4 56.60,347.9 56.80,348.4 57.00,348.3 57.20,348.1 57.40,347.9 57.60,347.8 57.80,347.8 58.00,347.9 58.20,348.1 58.40,348.3 58.60,348.6 58.80,348.9 59.00,349.1 59.20,349.3 59.40,348.9 59.60,348.2 59.80,347.0 60.00,345.2 60.20,342.8 60.40,339.7 60.60,336.1 60.80,332.1 61.00,328.3 61.20,324.9 61.40,322.7 61.60,321.7 61.80,322.3 62.00,324.2 62.20,327.1 62.40,330.7 62.60,334.4 62.80,337.8 63.00,338.7 63.20,338.8 63.30,339.0 63.40,339.2 63.60,339.9 63.80,340.8 64.00,341.9 64.20,343.2 64.40,344.4 64.60,345.5 64.80,346.5 65.00,347.3 65.20,346.9 65.40,346.5 65.60,346.1 65.80,345.7 66.00,345.4 66.20,345.2 66.30,345.2 66.40,345.3 66.60,345.4 66.80,345.8 67.00,346.2 67.20,346.6 67.40,347.0 67.60,347.3 67.80,346.2 68.00,344.6 68.20,342.9 68.40,341.0 68.60,339.1 68.80,337.7 69.00,336.8 69.10,336.7 69.20,336.8 69.40,337.5 69.60,338.8 69.80,340.5 70.00,342.3 70.20,344.1 70.40,344.8 70.60,344.8 70.80,344.9 71.00,345.2 71.20,345.5 71.40,346.0 71.60,346.5 71.80,347.0 72.00,347.6 72.20,347.9 72.40,347.7 72.60,347.5 72.80,347.3 73.00,347.3 73.20,347.4 73.40,347.6 73.60,347.8 73.80,348.1 74.00,348.5 74.20,348.5 74.40,348.3 74.60,348.1 74.80,348.0 75.00,348.0 75.20,348.0 75.40,348.2 75.60,348.4 75.80,348.6 76.00,348.9 76.20,349.2 76.40,349.5 76.60,349.7 76.80,349.5 77.00,349.2 77.20,349.0 77.40,348.9 77.60,348.7 77.80,348.6 78.00,348.5 78.20,348.5 78.40,348.6 78.60,348.8 78.80,349.0 79.00,349.3 79.20,349.5 79.40,349.6 79.60,349.7 79.80,349.6 80.00,349.4 80.20,349.2 80.40,349.0 80.60,348.8 80.80,348.8 81.00,348.8 81.20,348.8 81.40,348.9 81.60,349.0 81.80,349.2 82.00,349.3 82.20,349.5 82.40,349.7 82.60,349.9 82.80,350.0 83.00,350.1 83.20,350.0 83.40,349.7 83.60,349.2 83.80,348.4 84.00,347.5 84.20,347.0 84.30,346.9 84.40,347.0 84.60,347.6 84.80,348.5 85.00,349.3 85.20,349.8 85.40,350.1 85.60,350.2 85.80,350.3 86.00,350.3 86.20,350.3 86.40,350.2 86.60,350.1 86.80,349.5 87.00,348.1 87.20,345.1 87.40,340.0 87.60,333.5 87.80,327.7 88.00,325.3 88.20,327.3 88.40,332.7 88.60,338.8 88.80,341.5 89.00,341.9 89.20,342.3 89.40,343.0 89.60,343.9 89.80,344.9 90.00,346.0 90.20,346.9 90.40,346.9 90.60,346.8 90.80,346.9 91.00,347.1 91.20,347.5 91.40,347.9 91.60,348.4 91.80,348.9 92.00,348.9 92.20,348.4 92.40,347.9 92.60,347.5 92.70,347.5 92.80,347.5 93.00,347.8 93.20,348.4 93.40,349.0 93.60,349.5 93.80,349.9 94.00,350.1 94.20,350.2 94.40,350.3 94.60,350.3 94.80,350.3 95.00,350.2 95.20,350.2 95.40,350.1 95.60,350.0 95.80,349.8 96.00,349.5 96.20,349.0 96.40,348.5 96.60,348.1 96.80,348.0 97.00,348.1 97.20,348.5 97.40,348.9 97.60,349.4 97.80,349.7 98.00,349.9 98.20,350.0 98.40,350.1 98.60,350.2 98.80,350.3 99.00,350.3 99.20,350.2 99.40,350.1 99.60,350.1 99.80,350.0 100.00,349.9 100.20,349.7 100.40,349.4 100.60,349.1 100.80,348.9 101.00,348.7 101.20,348.8 101.40,349.1 101.60,349.4 101.80,349.7 102.00,350.0 102.20,350.2 102.40,350.2 102.60,350.2 102.80,350.3 103.00,350.3 103.20,350.3 103.40,350.2 103.60,350.2 103.80,350.1 104.00,350.1 104.20,350.2 104.40,350.2 104.60,350.3 104.80,350.3 105.00,350.3 105.20,350.3 105.40,350.3 105.60,350.3 105.80,350.2 106.00,350.2 106.20,350.3 106.40,350.3 106.60,350.3 106.80,350.2 107.00,350.2 107.20,350.3 107.40,350.3 107.60,350.2 107.80,350.2 108.00,350.2 108.20,350.1 108.40,350.0 108.60,349.9 108.80,349.8 109.00,349.6 109.20,349.3 109.40,349.0 109.60,348.7 109.80,348.5 110.00,348.4 110.20,348.4 110.40,348.6 110.60,348.9 110.80,349.3 111.00,349.6 111.20,349.8 111.40,350.0 111.60,350.1 111.80,350.1 112.00,350.2 112.20,350.2 112.40,350.2 112.60,350.2 112.80,350.3 113.00,350.3 113.20,350.3 113.40,350.3 113.60,350.3 113.80,350.3 114.00,350.3 114.20,350.2 114.40,350.2 114.60,350.2 114.80,350.2 115.00,350.2 115.20,350.2 115.40,350.2 115.60,350.2 115.80,350.2 116.00,350.0 116.20,349.7 116.40,349.4 116.60,348.9 116.80,348.4 117.00,348.0 117.20,347.8 117.30,347.8 117.40,347.8 117.60,348.1 117.80,348.5 118.00,348.9 118.20,349.3 118.40,349.7 118.60,349.9 118.80,350.0 119.00,349.9 119.20,349.7 119.40,349.4 119.60,348.9 119.80,348.6 120.00,348.5 120.20,348.6 120.40,348.9 120.60,349.3 120.80,349.7 121.00,349.9 121.20,350.0 121.40,350.1 121.60,350.2 121.80,350.2 122.00,350.2 122.20,350.3 122.40,350.3 122.60,350.3 122.80,350.3 123.00,350.2 123.20,350.2 123.40,350.2 123.60,350.2 123.80,349.8 124.00,347.6 124.20,343.7 124.30,342.9 124.40,343.6 124.60,347.4 124.80,349.1 125.00,348.7 125.20,348.3 125.40,348.0 125.60,348.0 125.80,348.1 126.00,348.3 126.20,348.7 126.40,349.2 126.60,349.6 126.80,349.9 127.00,350.1 127.20,350.2 127.40,350.2 127.60,350.3 127.80,350.2 128.00,350.2 128.20,350.1 128.40,350.1 128.60,350.0 128.80,349.9 129.00,349.7 129.20,349.3 129.40,348.7 129.60,348.2 129.80,347.9 130.00,348.1 130.20,348.7 130.40,349.3 130.60,349.7 130.80,350.0 131.00,350.2 131.20,350.2 131.40,350.3 131.60,350.3 131.80,350.2 132.00,350.2 132.20,350.2 132.40,350.2 132.60,350.2 132.80,350.2 133.00,350.3 133.20,350.3 133.40,350.3 133.60,350.3 133.80,350.3 134.00,350.3 134.20,350.2 134.40,350.2 134.60,350.2 134.80,350.2 135.00,350.2 135.20,350.2 135.40,350.3 135.60,350.3 135.80,350.3 136.00,350.3 136.20,350.3 136.40,350.3 136.60,350.3 136.80,350.3 137.00,350.3 137.20,350.3 137.40,350.2 137.60,348.3 137.80,333.1 138.00,288.2 138.20,255.0 138.40,288.2 138.60,332.6 138.80,335.9 139.00,324.5 139.20,336.4 139.40,348.1 139.60,350.2 139.80,350.3 140.00,350.3 140.20,350.3 140.40,350.3 140.60,350.3 140.80,350.3 141.00,350.3 141.20,350.3 141.40,350.3 141.60,350.3 141.80,350.3 142.00,350.3 142.20,350.2 142.40,350.2 142.60,350.2 142.80,350.3 143.00,350.3 143.20,350.3 143.40,350.3 143.60,350.2 143.80,350.2 144.00,350.1 144.20,350.0 144.40,349.9 144.60,349.8 144.80,349.6 145.00,349.4 145.20,349.2 145.40,349.1 145.60,349.0 145.70,349.0 145.80,348.9 146.00,349.0 146.20,349.2 146.40,349.4 146.60,349.7 146.80,349.8 147.00,350.0 147.20,350.1 147.40,350.1 147.60,350.1 147.80,350.2 148.00,350.2 148.20,350.2 148.40,350.3 148.60,350.3 148.80,350.3 149.00,350.2 149.20,350.3 149.40,350.3 149.60,350.2 149.80,350.2 150.00,350.1 150.20,350.1 150.40,350.1 150.60,350.1 150.80,350.1 151.00,350.1 151.20,350.2 151.40,350.2 151.60,350.2 151.80,350.2 152.00,350.2 152.20,350.2 152.40,350.3 152.60,350.3 152.80,350.3 153.00,350.3 153.20,350.3 153.40,350.3 153.60,350.3 153.80,350.3 154.00,350.3 154.20,350.3 154.40,350.2 154.60,350.2 154.80,350.2 155.00,350.2 155.20,350.3 155.40,350.3 155.60,350.3 155.80,350.3 156.00,350.3 156.20,350.3 156.40,350.3 156.60,350.3 156.80,350.3 157.00,350.3 157.20,350.3 157.40,350.2 157.60,350.2 157.80,350.1 158.00,350.1 158.20,350.1 158.40,350.1 158.60,350.2 158.80,350.2 159.00,350.2 159.20,350.2 159.40,350.2 159.60,350.2 159.80,350.2 160.00,350.2 160.20,350.2 160.40,350.2 160.60,350.2 160.80,350.3 161.00,350.3 161.20,350.3 161.40,350.3 161.60,350.3 161.80,350.3 162.00,350.3 162.20,350.3 162.40,350.3 162.60,350.2 162.80,350.2 163.00,350.2 163.20,350.1 163.40,350.1 163.60,350.1 163.80,350.1 164.00,350.1 164.20,350.2 164.40,350.2 164.60,350.2 164.80,350.3 165.00,350.3 165.20,350.3 165.40,350.3 165.60,350.3 165.80,350.3 166.00,350.3 166.20,350.3 166.40,350.3 166.60,350.3 166.80,350.3 167.00,350.3 167.20,350.3 167.40,350.3 167.60,350.3 167.80,350.3 168.00,350.3 168.20,350.3 168.40,350.3 168.60,350.2 168.80,350.2 169.00,350.2 169.20,350.2 169.40,350.2 169.60,350.2 169.80,350.2 170.00,350.3 170.20,350.3 170.40,350.2 170.60,350.2 170.80,350.2 171.00,350.2 171.20,350.2 171.40,350.2 171.60,350.3 171.80,350.3 172.00,350.3 172.20,350.3 172.40,350.3 172.60,350.2 172.80,350.2 173.00,350.2 173.20,350.2 173.40,350.2 173.60,350.3 173.80,350.2 174.00,350.2 174.20,350.2 174.40,350.1 174.60,349.5 174.80,346.9 175.00,341.3 175.20,337.7 175.40,341.3 175.60,347.0 175.80,348.7 176.00,347.9 176.20,346.9 176.40,346.1 176.60,345.9 176.80,346.2 177.00,347.0 177.20,347.9 177.40,348.8 177.60,349.5 177.80,349.8 178.00,349.7 178.20,349.2 178.40,348.6 178.60,347.9 178.80,347.4 179.00,347.2 179.20,347.4 179.40,347.9 179.60,348.6 179.80,349.2 180.00,349.7 180.20,349.9 180.40,350.1 180.60,350.2 180.80,350.2 181.00,350.3 181.20,350.3 181.40,350.2 181.60,350.2 181.80,350.2 182.00,350.2 182.20,350.2 182.40,350.2 182.60,350.2 182.80,350.3 183.00,350.3 183.20,350.3 183.40,350.3 183.60,350.3 183.80,350.3 184.00,350.3 184.20,350.3 184.40,350.3 184.60,350.3 184.80,350.3 185.00,350.3 185.20,350.3 185.40,350.3 185.60,350.2 185.80,350.2 186.00,350.2 186.20,350.2 186.40,350.2 186.60,350.2 186.80,350.2 187.00,350.2 187.20,350.1 187.40,349.8 187.60,349.3 187.70,349.2 187.80,349.3 188.00,349.8 188.20,350.2 188.40,350.3 188.60,350.2 188.80,350.2 189.00,350.2 189.20,350.2 189.40,350.3 189.60,350.3 189.80,350.3 190.00,350.3 190.20,350.2 190.40,350.3 190.60,350.3 190.80,350.3 191.00,350.3 191.20,350.3 191.40,350.2 191.60,350.2 191.80,350.2 192.00,350.2 192.20,350.2 192.40,350.2 192.60,350.3 192.80,350.3 193.00,350.3 193.20,350.3 193.40,350.3 193.60,350.2 193.80,350.2 194.00,350.3 194.20,350.3 194.40,350.3 194.60,350.2 194.80,350.2 195.00,350.3 195.20,350.3 195.40,350.3 195.60,350.3 195.80,350.3 196.00,350.3 196.20,350.2 196.40,350.2 196.60,350.2 196.80,350.3 197.00,350.3 197.20,350.3 197.40,350.3 197.60,350.3 197.80,350.3 198.00,350.3 198.20,350.3 198.40,350.3 198.60,350.3 198.80,350.3 199.00,350.2 199.20,350.2 199.40,350.2 199.60,350.2 199.80,350.2 200.00,350.2 200.20,350.2 200.40,350.2 200.60,350.3 200.80,350.3 201.00,350.3 201.20,350.3 201.40,350.2 201.60,350.2 201.80,350.2 202.00,350.2 202.20,350.3 202.40,350.3 202.60,350.3 202.80,350.3 203.00,350.3 203.20,350.3 203.40,350.2 203.60,350.2 203.80,350.2 204.00,350.2 204.20,350.2 204.40,350.1 204.60,350.1 204.80,350.1 205.00,350.0 205.20,348.3 205.40,341.1 205.60,330.6 205.70,328.6 205.80,330.5 206.00,341.1 206.20,348.3 206.40,350.0 206.60,350.2 206.80,350.3 207.00,350.3 207.20,350.2 207.40,350.2 207.60,350.2 207.80,350.2 208.00,350.2 208.20,350.2 208.40,350.2 208.60,350.3 208.80,350.3 209.00,350.1 209.20,349.4 209.40,348.6 209.50,348.5 209.60,348.6 209.80,349.4 210.00,350.0 210.20,350.2 210.40,350.2 210.60,350.2 210.80,350.2 211.00,350.2 211.20,350.3 211.40,350.3 211.60,350.2 211.80,350.2 212.00,350.2 212.20,350.3 212.40,350.3 212.60,350.2 212.80,350.2 213.00,349.7 213.20,346.4 213.40,338.0 213.60,332.2 213.80,337.9 214.00,346.2 214.20,348.0 214.40,346.7 214.60,345.5 214.80,344.9 215.00,345.4 215.20,346.6 215.40,348.0 215.60,349.1 215.80,349.8 216.00,350.1 216.20,350.2 216.40,350.3 216.60,350.3 216.80,350.3 217.00,350.3 217.20,350.3 217.40,350.3 217.60,350.3 217.80,350.3 218.00,350.3 218.20,350.3 218.40,350.3 218.60,350.2 218.80,349.4 219.00,346.2 219.20,341.6 219.30,340.6 219.40,341.5 219.60,346.0 219.80,348.8 220.00,348.1 220.20,347.1 220.40,346.5 220.50,346.4 220.60,346.5 220.80,347.2 221.00,348.2 221.20,349.1 221.40,348.9 221.60,346.6 221.80,345.2 222.00,346.6 222.20,348.9 222.40,349.9 222.60,349.7 222.80,349.4 223.00,349.0 223.20,348.6 223.40,348.4 223.50,348.4 223.60,348.5 223.80,348.8 224.00,349.1 224.20,349.4 224.40,349.8 224.60,350.0 224.80,350.2 225.00,350.2 225.20,350.2 225.40,350.2 225.60,350.3 225.80,350.3 226.00,350.3 226.20,350.2 226.40,350.2 226.60,350.2 226.80,350.2 227.00,350.2 227.20,350.3 227.40,350.3 227.60,350.3 227.80,350.3 228.00,350.3 228.20,350.3 228.40,350.3 228.60,350.3 228.80,350.2 229.00,350.2 229.20,350.2 229.40,350.2 229.60,350.2 229.80,349.7 230.00,345.9 230.20,330.5 230.40,307.7 230.50,303.4 230.60,307.7 230.80,330.4 231.00,345.6 231.20,347.3 231.40,346.4 231.60,346.0 231.80,346.3 232.00,347.3 232.20,348.4 232.40,349.3 232.60,349.9 232.80,350.1 233.00,350.3 233.20,350.3 233.40,350.2 233.60,350.2 233.80,350.2 234.00,350.3 234.20,350.2 234.40,350.2 234.60,350.0 234.80,349.6 235.00,349.0 235.20,348.4 235.40,348.0 235.50,347.9 235.60,348.0 235.80,348.4 236.00,349.0 236.20,349.5 236.40,349.9 236.60,350.1 236.80,350.2 237.00,350.3 237.20,350.3 237.40,350.3 237.60,350.3 237.80,350.2 238.00,350.2 238.20,350.2 238.40,350.3 238.60,350.3 238.80,350.2 239.00,350.1 239.20,350.1 239.40,350.2 239.60,350.2 239.80,350.3 240.00,350.3 240.20,350.2 240.40,350.2 240.60,350.2 240.80,350.3 241.00,350.3 241.20,350.3 241.40,350.3 241.60,350.2 241.80,350.3 242.00,350.3 242.20,350.3 242.40,350.3 242.60,350.3 242.80,350.3 243.00,350.3 243.20,350.3 243.40,350.3 243.60,350.2 243.80,350.2 244.00,350.2 244.20,350.2 244.40,350.2 244.60,350.1 244.80,350.1 245.00,350.1 245.20,350.1 245.40,350.1 245.60,350.1 245.80,350.2 246.00,350.2 246.20,350.3 246.40,350.3 246.60,350.3 246.80,350.2 247.00,350.2 247.20,350.2 247.40,350.2 247.60,350.2 247.80,350.2 248.00,350.2 248.20,350.2 248.40,350.2 248.60,350.0 248.80,349.5 249.00,349.2 249.20,349.6 249.40,350.0 249.60,350.2 249.80,350.3 250.00,350.3 250.20,350.3 250.40,350.2 250.60,350.2 250.80,350.1 251.00,350.1 251.20,350.1 251.40,349.9 251.60,349.2 251.80,347.4 252.00,346.3 252.20,347.4 252.40,349.3 252.60,350.1 252.80,350.2 253.00,350.3 253.20,350.3 253.40,350.3 253.60,350.3 253.80,350.2 254.00,350.3 254.20,350.3 254.40,350.3 254.60,350.2 254.80,350.2 255.00,350.2 255.20,350.2 255.40,350.2 255.60,350.3 255.80,350.3 256.00,350.3 256.20,350.2 256.40,350.2 256.60,350.2 256.80,350.1 257.00,350.2 257.20,350.2 257.40,350.2 257.60,350.2 257.80,350.2 258.00,350.2 258.20,350.2 258.40,350.3 258.60,350.3 258.80,350.3 259.00,350.3 259.20,350.3 259.40,350.3 259.60,350.3 259.80,350.2 260.00,349.9 260.20,349.0 260.40,347.7 260.50,347.5 260.60,347.7 260.80,349.0 261.00,349.9 261.20,350.2 261.40,350.3 261.60,350.3 261.80,350.3 262.00,350.2 262.20,350.2 262.40,350.2 262.60,350.2 262.80,350.3 263.00,350.3 263.20,350.3 263.40,350.3 263.60,350.3 263.80,350.3 264.00,350.3 264.20,350.2 264.40,350.2 264.60,350.2 264.80,350.1 265.00,350.1 265.20,350.1 265.40,350.1 265.60,350.2 265.80,350.2 266.00,350.2 266.20,350.2 266.40,350.2 266.60,350.2 266.80,350.2 267.00,350.2 267.20,350.2 267.40,350.2 267.60,350.2 267.80,350.2 268.00,350.3 268.20,350.3 268.40,350.3 268.60,350.3 268.80,350.3 269.00,350.2 269.20,350.2 269.40,350.2 269.60,350.2 269.80,350.2 270.00,350.2 270.20,350.2 270.40,350.3 270.60,350.3 270.80,350.2 271.00,350.2 271.20,350.2 271.40,350.2 271.60,350.2 271.80,350.2 272.00,350.2 272.20,350.0 272.40,349.6 272.60,348.5 272.80,346.8 273.00,344.6 273.20,342.6 273.40,341.8 273.60,342.5 273.80,344.4 274.00,346.5 274.20,348.1 274.40,347.8 274.60,347.4 274.80,347.1 275.00,347.0 275.20,347.1 275.40,347.5 275.60,348.0 275.80,348.5 276.00,349.0 276.20,349.4 276.40,349.7 276.60,349.9 276.80,350.0 277.00,350.1 277.20,350.1 277.40,350.1 277.60,350.1 277.80,350.2 278.00,350.2 278.20,350.3 278.40,350.3 278.60,350.3 278.80,350.3 279.00,350.3 279.20,350.3 279.40,350.3 279.60,350.3 279.80,350.3 280.00,350.3 280.20,350.3 280.40,350.3 280.60,350.3 280.80,350.3 281.00,350.2 281.20,350.2 281.40,350.2 281.60,350.2 281.80,350.3 282.00,350.3 282.20,350.3 282.40,350.3 282.60,350.3 282.80,350.3 283.00,350.3 283.20,350.3 283.40,350.3 283.60,350.3 283.80,350.3 284.00,350.2 284.20,350.2 284.40,350.3 284.60,350.3 284.80,350.3 285.00,350.3 285.20,350.3 285.40,350.3 285.60,350.2 285.80,350.2 286.00,350.2 286.20,350.2 286.40,350.3 286.60,350.3 286.80,350.3 287.00,350.2 287.20,350.2 287.40,350.2 287.60,350.2 287.80,350.3 288.00,350.3 288.20,350.3 288.40,350.3 288.60,350.2 288.80,350.2 289.00,350.0 289.20,349.2 289.40,348.2 289.50,347.9 289.60,348.1 289.80,349.2 290.00,349.9 290.20,350.2 290.40,350.2 290.60,350.2 290.80,350.2 291.00,350.3 291.20,350.3 291.40,350.2 291.60,350.1 291.80,349.7 292.00,347.3 292.20,343.2 292.30,342.4 292.40,343.3 292.60,347.4 292.80,349.3 293.00,345.1 293.20,340.8 293.40,344.8 293.60,344.5 293.80,336.7 293.90,335.2 294.00,336.8 294.20,344.8 294.40,349.3 294.60,350.1 294.80,350.1 295.00,350.1 295.20,350.1 295.40,350.1 295.60,350.2 295.80,350.2 296.00,350.0 296.20,349.7 296.40,349.4 296.60,349.1 296.80,348.9 297.00,349.0 297.20,349.3 297.40,349.6 297.60,349.9 297.80,350.1 298.00,350.2 298.20,350.3 298.40,350.2 298.60,350.2 298.80,350.2 299.00,350.2 299.20,350.2 299.40,350.2 299.60,350.2 299.80,350.2 300.00,350.2 300.20,350.3 300.40,350.3 300.60,350.2 300.80,350.2 301.00,350.2 301.20,350.2 301.40,350.2 301.60,350.2 301.80,350.2 302.00,350.2 302.20,350.2 302.40,350.2 302.60,350.3 302.80,350.3 303.00,350.3 303.20,350.3 303.40,350.3 303.60,350.3 303.80,350.3 304.00,350.3 304.20,350.3 304.40,350.2 304.60,350.2 304.80,350.2 305.00,350.1 305.20,350.2 305.40,350.2 305.60,350.3 305.80,350.2 306.00,350.1 306.20,350.1 306.40,350.1 306.60,350.1 306.80,350.1 307.00,350.2 307.20,350.2 307.40,350.3 307.60,350.3 307.80,350.3 308.00,350.3 308.20,350.3 308.40,350.3 308.60,350.3 308.80,350.3 309.00,350.2 309.20,350.2 309.40,350.2 309.60,350.2 309.80,350.2 310.00,350.2 310.20,350.2 310.40,350.3 310.60,350.3 310.80,350.3 311.00,350.3 311.20,350.3 311.40,350.3 311.60,350.3 311.80,350.2 312.00,350.1 312.20,350.1 312.40,350.1 312.60,350.1 312.80,350.0 313.00,349.4 313.20,348.2 313.40,347.4 313.60,348.2 313.80,349.4 314.00,350.0 314.20,350.1 314.40,350.2 314.60,350.2 314.80,350.3 315.00,350.3 315.20,349.7 315.40,347.0 315.60,342.1 315.70,341.1 315.80,342.1 316.00,347.0 316.20,349.7 316.40,347.4 316.60,340.6 316.70,339.0 316.80,340.6 317.00,347.5 317.20,349.3 317.40,344.8 317.60,336.6 317.70,335.0 317.80,336.6 318.00,344.8 318.20,349.2 318.40,345.8 318.60,341.9 318.80,345.7 319.00,349.5 319.20,350.2 319.40,350.2 319.60,350.2 319.80,350.1 320.00,350.0 320.20,349.9 320.40,349.7 320.60,349.4 320.80,349.1 321.00,348.7 321.20,348.3 321.40,347.9 321.60,347.6 321.80,347.4 322.00,347.3 322.20,347.5 322.40,347.7 322.60,348.0 322.80,348.3 323.00,348.6 323.20,349.0 323.40,349.3 323.60,349.2 323.80,349.0 324.00,348.7 324.20,348.4 324.40,348.2 324.60,348.0 324.80,347.9 325.00,347.9 325.20,347.9 325.40,348.1 325.60,348.3 325.80,348.5 326.00,348.8 326.20,349.0 326.40,349.3 326.60,349.5 326.80,349.7 327.00,349.8 327.20,349.8 327.40,349.7 327.60,349.6 327.80,349.5 328.00,349.3 328.20,349.1 328.40,349.0 328.60,348.9 328.80,348.8 329.00,348.8 329.20,348.8 329.40,348.9 329.60,349.0 329.80,349.1 330.00,349.3 330.20,349.4 330.40,349.6 330.60,349.7 330.80,349.8 331.00,349.8 331.20,349.9 331.40,349.9 331.60,349.9 331.80,350.0 332.00,350.0 332.20,350.0 332.40,350.1 332.60,350.2 332.80,350.3 333.00,350.3 333.20,350.3 333.40,350.2 333.60,350.3 333.80,350.3 334.00,350.3 334.20,350.3 334.40,350.2 334.60,350.2 334.80,350.2 335.00,350.2 335.20,350.2 335.40,350.2 335.60,350.2 335.80,350.3 336.00,350.3 336.20,350.3 336.40,350.3 336.60,350.2 336.80,350.2 337.00,350.2 337.20,350.2 337.40,350.2 337.60,350.3 337.80,350.3 338.00,350.3 338.20,350.3 338.40,350.1 338.60,349.7 338.80,349.1 338.90,349.0 339.00,349.1 339.20,349.7 339.40,350.1 339.60,350.3 339.80,350.3 340.00,350.3 340.20,350.2 340.40,350.2 340.60,350.2 340.80,350.2 341.00,350.2 341.20,350.3 341.40,350.3 341.60,350.3 341.80,350.3 342.00,350.3 342.20,350.3 342.40,350.3 342.60,350.3 342.80,350.3 343.00,350.3 343.20,350.3 343.40,350.2 343.60,350.2 343.80,350.2 344.00,350.2 344.20,350.2 344.40,350.2 344.60,350.2 344.80,350.3 345.00,350.3 345.20,350.3 345.40,350.3 345.60,350.3 345.80,350.2 346.00,350.2 346.20,350.2 346.40,350.3 346.60,350.2 346.80,350.0 347.00,349.3 347.20,348.4 347.30,348.3 347.40,348.4 347.60,349.3 347.80,350.0 348.00,350.3 348.20,350.3 348.40,350.2 348.60,350.2 348.80,350.2 349.00,350.2 349.20,350.3 349.40,350.3 349.60,350.3 349.80,350.3 350.00,350.3 350.20,350.2 350.40,350.2 350.60,350.2 350.80,350.2 351.00,350.2 351.20,350.2 351.40,350.2 351.60,350.2 351.80,350.3 352.00,350.3 352.20,350.2 352.40,350.2 352.60,350.2 352.80,350.2 353.00,350.2 353.20,350.3 353.40,350.3 353.60,350.2 353.80,350.3 354.00,350.3 354.20,350.3 354.40,350.2 354.60,350.2 354.80,350.2 355.00,350.3 355.20,350.3 355.40,350.3 355.60,350.3 355.80,350.3 356.00,350.3 356.20,350.3 356.40,350.3 356.60,350.3 356.80,350.3 357.00,350.3 357.20,350.3 357.40,350.3 357.60,350.3 357.80,350.3 358.00,350.3 358.20,350.2 358.40,350.2 358.60,350.2 358.80,350.2 359.00,350.2 359.20,350.2 359.40,350.2 359.60,350.3 359.80,350.3 360.00,350.3 360.20,350.3 360.40,350.2 360.60,350.2 360.80,350.2 361.00,350.2 361.20,350.2 361.40,350.2 361.60,350.2 361.80,350.3 362.00,350.3 362.20,350.3 362.40,350.3 362.60,350.3 362.80,350.3 363.00,350.2 363.20,350.2 363.40,350.2 363.60,350.2 363.80,350.3 364.00,350.3 364.20,350.3 364.40,350.2 364.60,350.0 364.80,349.6 365.00,349.0 365.20,348.4 365.40,348.0 365.50,347.9 365.60,348.0 365.80,348.4 366.00,349.0 366.20,349.5 366.40,349.9 366.60,350.1 366.80,350.1 367.00,349.7 367.20,348.1 367.40,346.1 367.50,345.7 367.60,346.1 367.80,348.2 368.00,349.7 368.20,349.7 368.40,349.3 368.60,348.7 368.80,348.1 369.00,347.9 369.20,348.2 369.40,348.7 369.60,349.3 369.80,349.8 370.00,350.0 370.20,350.2 370.40,350.2 370.60,350.2 370.80,350.3 371.00,350.3 371.20,350.2 371.40,350.2 371.60,350.1 371.80,350.1 372.00,350.1 372.20,350.1 372.40,350.1 372.60,349.9 372.80,349.6 373.00,349.0 373.20,348.3 373.40,347.6 373.60,347.3 373.80,347.5 374.00,348.2 374.20,349.0 374.40,349.6 374.60,350.0 374.80,350.2 375.00,350.3 375.20,350.3 375.40,350.3 375.60,350.3 375.80,350.3 376.00,350.3 376.20,350.3 376.40,350.3 376.60,350.3 376.80,350.2 377.00,350.2 377.20,350.2 377.40,350.2 377.60,350.2 377.80,350.2 378.00,350.2 378.20,350.2 378.40,350.2 378.60,350.1 378.80,350.0 379.00,349.9 379.20,349.7 379.40,349.5 379.60,349.4 379.80,349.2 380.00,349.2 380.20,349.2 380.40,349.3 380.60,349.4 380.80,349.6 381.00,349.8 381.20,350.0 381.40,350.1 381.60,350.2 381.80,350.2 382.00,350.3 382.20,350.3 382.40,350.3 382.60,350.3 382.80,350.2 383.00,350.2 383.20,350.1 383.40,350.1 383.60,350.1 383.80,350.1 384.00,350.2 384.20,350.2 384.40,350.3 384.60,350.3 384.80,350.2 385.00,350.2 385.20,350.2 385.40,350.1 385.60,350.1 385.80,350.2 386.00,350.2 386.20,350.3 386.40,350.2 386.60,350.2 386.80,350.2 387.00,350.2 387.20,350.2 387.40,350.2 387.60,350.3 387.80,350.3 388.00,350.3 388.20,350.3 388.40,350.2 388.60,350.0 388.80,349.8 389.00,349.4 389.20,349.1 389.40,348.8 389.50,348.8 389.60,348.9 389.80,349.1 390.00,349.5 390.20,349.9 390.40,350.1 390.60,350.2 390.80,350.2 391.00,350.2 391.20,350.2 391.40,350.2 391.60,350.2 391.80,350.2 392.00,350.2 392.20,350.2 392.40,350.3 392.60,350.2 392.80,350.2 393.00,350.1 393.20,350.1 393.40,350.0 393.60,349.3 393.80,345.6 394.00,339.0 394.10,337.7 394.20,339.1 394.40,345.7 394.60,349.4 394.80,347.9 395.00,342.2 395.10,340.9 395.20,342.2 395.40,347.8 395.60,349.4 395.80,345.9 396.00,339.6 396.10,338.4 396.20,339.6 396.40,345.9 396.60,349.5 396.80,350.1 397.00,350.1 397.20,350.1 397.40,350.2 397.60,350.2 397.80,350.2 398.00,350.2 398.20,350.2 398.40,350.2 398.60,350.2 398.80,350.2 399.00,350.2 399.20,350.2 399.40,350.2 399.60,350.1 399.80,350.1 400.00,350.1 400.20,350.1 400.40,350.1 400.60,350.1 400.80,350.1 401.00,350.1 401.20,350.1 401.40,350.1 401.60,350.1 401.80,350.2 402.00,350.2 402.20,350.2 402.40,350.2 402.60,350.2 402.80,350.1 403.00,350.1 403.20,350.1 403.40,350.1 403.60,350.1 403.80,350.2 404.00,350.2 404.20,350.2 404.40,350.2 404.60,350.1 404.80,350.1 405.00,350.1 405.20,350.1 405.40,350.1 405.60,350.1 405.80,350.1 406.00,350.1 406.20,350.1 406.40,350.1 406.60,350.1 406.80,350.0 407.00,349.9 407.20,349.8 407.40,349.6 407.60,349.4 407.80,349.2 408.00,349.2 408.20,349.3 408.40,349.4 408.60,349.6 408.80,349.8 409.00,349.9 409.20,350.0 409.40,350.0 409.60,350.0 409.80,350.0 410.00,350.0 410.20,350.0 410.40,349.9 410.60,349.8 410.80,349.7 411.00,349.5 411.20,349.3 411.40,349.1 411.60,348.8 411.80,348.6 412.00,348.5 412.20,348.6 412.40,348.8 412.60,349.0 412.80,349.3 413.00,349.5 413.20,349.7 413.40,349.9 413.60,349.9 413.80,350.0 414.00,350.0 414.20,350.0 414.40,350.1 414.60,350.1 414.80,350.1 415.00,350.1 415.20,350.0 415.40,350.0 415.60,350.0 415.80,350.0 416.00,350.0 416.20,350.0 416.40,350.1 416.60,350.1 416.80,350.1 417.00,350.0 417.20,349.8 417.40,348.9 417.60,347.7 417.70,347.4 417.80,347.6 418.00,348.8 418.20,349.7 418.40,350.0 418.60,350.0 418.80,350.0 419.00,350.0 419.20,350.0 419.40,349.9 419.60,349.4 419.80,348.2 420.00,347.5 420.20,348.2 420.40,349.3 420.60,349.8 420.80,349.9 421.00,349.9 421.20,350.0 421.40,350.1 421.60,350.0 421.80,350.0 422.00,350.0 422.20,350.0 422.40,350.0 422.60,350.0 422.80,350.0 423.00,350.0 423.20,350.0 423.40,350.0 423.60,350.0 423.80,350.0 424.00,350.0 424.20,350.0 424.40,350.0 424.60,350.0 424.80,350.0 425.00,350.0 425.20,350.0 425.40,350.0 425.60,350.0 425.80,350.0 426.00,350.0 426.20,350.0 426.40,350.0 426.60,349.9 426.80,349.9 427.00,349.9 427.20,349.9 427.40,349.9 427.60,349.9 427.80,349.9 428.00,349.9 428.20,349.9 428.40,349.9 428.60,349.9 428.80,349.9 429.00,349.9 429.20,349.9 429.40,349.9 429.60,349.9 429.80,350.0 430.00,350.0 430.20,350.0 430.40,350.0 430.60,350.0 430.80,349.9 431.00,349.9 431.20,349.9 431.40,349.9 431.60,349.9 431.80,349.9 432.00,350.0 432.20,350.0 432.40,349.9 432.60,349.9 432.80,349.9 433.00,349.9 433.20,349.9 433.40,350.0 433.60,350.0 433.80,349.9 434.00,349.9 434.20,349.8 434.40,349.8 434.60,349.8 434.80,349.9 435.00,349.9 435.20,350.0 435.40,350.0 435.60,349.9 435.80,349.8 436.00,349.8 436.20,349.8 436.40,349.8 436.60,349.8 436.80,349.8 437.00,349.7 437.20,348.5 437.40,344.6 437.60,339.2 437.70,338.3 437.80,339.3 438.00,344.6 438.20,348.6 438.40,348.7 438.60,346.4 438.80,345.0 439.00,346.4 439.20,348.6 439.40,349.6 439.60,349.9 439.80,349.9 440.00,349.9 440.20,349.9 440.40,349.8 440.60,349.3 440.80,347.2 441.00,344.5 441.10,344.0 441.20,344.5 441.40,347.1 441.60,349.1 441.80,349.7 442.00,349.8 442.20,349.8 442.40,349.8 442.60,349.8 442.80,349.8 443.00,349.8 443.20,349.7 443.40,349.7 443.60,349.7 443.80,349.7 444.00,349.7 444.20,349.8 444.40,349.8 444.60,349.7 444.80,349.5 445.00,349.1 445.20,348.4 445.40,347.7 445.60,347.2 445.70,347.2 445.80,347.2 446.00,347.7 446.20,348.3 446.40,348.9 446.60,349.3 446.80,349.6 447.00,349.7 447.20,349.8 447.40,349.9 447.60,349.9 447.80,349.9 448.00,349.9 448.20,349.9 448.40,349.9 448.60,349.8 448.80,349.8 449.00,349.8 449.20,349.8 449.40,349.8 449.60,349.8 449.80,349.7 450.00,349.5 450.20,349.3 450.40,349.0 450.60,348.8 450.70,348.8 450.80,348.8 451.00,348.9 451.20,349.2 451.40,349.5 451.60,349.7 451.80,349.7 452.00,349.8 452.20,349.8 452.40,349.8 452.60,349.8 452.80,349.8 453.00,349.8 453.20,349.8 453.40,349.9 453.60,349.8 453.80,349.7 454.00,349.5 454.20,349.3 454.40,349.1 454.60,348.9 454.80,348.8 455.00,348.9 455.20,349.1 455.40,349.4 455.60,349.6 455.80,349.8 456.00,349.8 456.20,349.7 456.40,349.7 456.60,349.8 456.80,349.8 457.00,349.8 457.20,349.8 457.40,349.8 457.60,349.7 457.80,349.8 458.00,349.8 458.20,349.8 458.40,349.7 458.60,349.7 458.80,349.7 459.00,349.7 459.20,349.8 459.40,349.8 459.60,349.8 459.80,349.8 460.00,349.8 460.20,349.8 460.40,349.8 460.60,349.8 460.80,349.8 461.00,349.8 461.20,349.8 461.40,349.8 461.60,349.8 461.80,349.8 462.00,349.8 462.20,349.8 462.40,349.8 462.60,349.8 462.80,349.8 463.00,349.7 463.20,349.7 463.40,349.7 463.60,349.7 463.80,349.7 464.00,349.7 464.20,349.8 464.40,349.8 464.60,349.7 464.80,349.7 465.00,349.7 465.20,349.7 465.40,349.7 465.60,349.7 465.80,349.8 466.00,349.8 466.20,349.8 466.40,349.7 466.60,349.7 466.80,349.7 467.00,349.6 467.20,349.1 467.40,347.4 467.60,345.1 467.70,344.7 467.80,345.1 468.00,347.4 468.20,349.1 468.40,349.0 468.60,348.5 468.80,348.1 469.00,347.9 469.20,348.1 469.40,348.5 469.60,348.9 469.80,349.2 470.00,348.9 470.20,348.5 470.40,348.3 470.50,348.2 470.60,348.2 470.80,348.5 471.00,348.9 471.20,349.2 471.40,349.5 471.60,349.6 471.80,349.7 472.00,349.7 472.20,349.7 472.40,349.7 472.60,349.7 472.80,349.7 473.00,349.7 473.20,349.7 473.40,349.7 473.60,349.7 473.80,349.6 474.00,349.6 474.20,349.6 474.40,349.5 474.60,349.5 474.80,349.5 475.00,349.5 475.20,349.4 475.40,348.9 475.60,347.0 475.80,344.4 475.90,344.0 476.00,344.5 476.20,347.1 476.40,349.0 476.60,349.2 476.80,348.8 477.00,348.5 477.20,348.1 477.40,347.9 477.50,347.9 477.60,348.0 477.80,348.2 478.00,348.6 478.20,349.0 478.40,349.3 478.60,349.5 478.80,349.6 479.00,349.5 479.20,349.2 479.40,348.8 479.60,348.2 479.80,347.6 480.00,347.3 480.20,347.5 480.40,348.0 480.60,348.6 480.80,349.1 481.00,349.4 481.20,349.5 481.40,349.3 481.60,348.2 481.80,346.3 482.00,345.2 482.20,346.2 482.40,348.1 482.60,349.2 482.80,349.5 483.00,349.5 483.20,349.2 483.40,348.8 483.60,348.2 483.80,347.6 484.00,347.4 484.20,347.6 484.40,348.1 484.60,348.6 484.80,349.1 485.00,349.3 485.20,349.1 485.40,348.5 485.60,347.8 485.80,347.2 486.00,347.0 486.20,347.3 486.40,347.8 486.60,348.5 486.80,349.0 487.00,349.3 487.20,349.1 487.40,348.6 487.60,348.1 487.80,347.6 488.00,347.4 488.20,347.7 488.40,348.2 488.60,348.7 488.80,349.1 489.00,349.3 489.20,348.9 489.40,348.4 489.60,347.7 489.80,347.1 490.00,346.9 490.20,347.1 490.40,347.8 490.60,348.4 490.80,348.4 491.00,347.6 491.20,346.6 491.40,346.0 491.50,345.9 491.60,346.0 491.80,346.6 492.00,347.6 492.20,348.6 492.40,349.1 492.60,347.6 492.80,342.7 492.90,341.5 493.00,342.6 493.20,347.5 493.40,349.4 493.60,349.2 493.80,347.5 494.00,345.8 494.20,347.5 494.40,349.2 494.60,348.4 494.80,342.0 495.00,335.4 495.20,342.0 495.40,348.5 495.60,349.3 495.80,346.4 496.00,343.0 496.20,346.4 496.40,349.3 496.60,348.1 496.80,339.6 497.00,331.0 497.20,339.6 497.40,348.0 497.60,347.6 497.80,341.5 497.90,339.9 498.00,341.5 498.20,347.6 498.40,347.2 498.60,337.3 498.80,328.4 499.00,337.2 499.20,347.1 499.40,347.9 499.60,343.9 499.70,343.0 499.80,343.9 500.00,348.0 500.20,348.5 500.40,344.5 500.60,340.9 500.80,344.4 501.00,348.4 501.20,349.5 501.40,349.6 501.60,349.5 501.80,349.1 502.00,347.4 502.20,345.2 502.30,344.8 502.40,345.2 502.60,347.4 502.80,349.1 503.00,349.6 503.20,349.4 503.40,348.2 503.60,345.6 503.80,344.0 504.00,345.6 504.20,348.2 504.40,349.3 504.60,349.4 504.80,349.4 505.00,348.3 505.20,344.3 505.40,340.9 505.60,344.4 505.80,348.5 506.00,346.8 506.20,343.9 506.40,346.7 506.60,348.1 506.80,341.0 507.00,333.7 507.20,341.0 507.40,348.2 507.60,346.5 507.80,343.4 508.00,346.6 508.20,347.5 508.40,342.6 508.50,341.5 508.60,342.7 508.80,347.6 509.00,349.4 509.20,347.5 509.40,342.2 509.50,340.9 509.60,342.2 509.80,347.5 510.00,349.3 510.20,348.9 510.40,348.1 510.60,347.1 510.80,346.2 511.00,345.9 511.20,346.2 511.40,347.1 511.60,348.0 511.80,348.8 512.00,349.3 512.20,349.5 512.40,349.6 512.60,349.6 512.80,349.6 513.00,349.6 513.20,348.6 513.40,344.8 513.60,341.6 513.80,344.8 514.00,348.5 514.20,349.4 514.40,349.1 514.60,348.6 514.80,347.9 515.00,347.1 515.20,346.6 515.30,346.4 515.40,346.5 515.60,347.1 515.80,347.9 516.00,348.7 516.20,349.2 516.40,349.4 516.60,349.1 516.80,348.6 517.00,348.1 517.20,347.6 517.40,347.3 517.50,347.3 517.60,347.3 517.80,347.6 518.00,348.0 518.20,348.5 518.40,349.0 518.60,349.3 518.80,349.5 519.00,349.4 519.20,349.2 519.40,348.8 519.60,348.5 519.80,348.2 520.00,348.2 520.20,348.3 520.40,348.5 520.60,348.8 520.80,349.2 521.00,349.4 521.20,349.5 521.40,349.6 521.60,349.6 521.80,349.6 522.00,349.6 522.20,349.6 522.40,349.5 522.60,349.6 522.80,349.6 523.00,349.6 523.20,349.6 523.40,349.7 523.60,349.7 523.80,349.6 524.00,349.6 524.20,349.6 524.40,349.6 524.60,349.6 524.80,349.6 525.00,349.5 525.20,349.5 525.40,349.4 525.60,349.1 525.80,348.9 526.00,348.7 526.20,348.5 526.40,348.5 526.60,348.6 526.80,348.8 527.00,349.0 527.20,349.1 527.40,349.3 527.60,349.4 527.80,349.5 528.00,349.5 528.20,349.6 528.40,349.6 528.60,349.6 528.80,349.6 529.00,349.7 529.20,349.7 529.40,349.7 529.60,349.7 529.80,349.6 530.00,349.6 530.20,349.6 530.40,349.6 530.60,349.6 530.80,349.6 531.00,349.6 531.20,349.6 531.40,349.6 531.60,349.6 531.80,349.7 532.00,349.7 532.20,349.7 532.40,349.7 532.60,349.7 532.80,349.7 533.00,349.7 533.20,349.7 533.40,349.6 533.60,349.6 533.80,349.6 534.00,349.7 534.20,349.7 534.40,349.6 534.60,349.5 534.80,349.4 535.00,349.1 535.20,348.9 535.40,348.8 535.50,348.8 535.60,348.8 535.80,348.9 536.00,349.1 536.20,349.3 536.40,349.3 536.60,349.0 536.80,348.4 537.00,347.8 537.20,347.4 537.30,347.3 537.40,347.4 537.60,347.8 537.80,348.5 538.00,348.9 538.20,349.3 538.40,349.4 538.60,349.3 538.80,349.2 539.00,349.0 539.20,348.9 539.40,348.9 539.50,349.0 539.60,349.0 539.80,349.0 540.00,349.1 540.20,349.3 540.40,349.5 540.60,349.6 540.80,349.7 541.00,349.7 541.20,349.6 541.40,349.6 541.60,349.6 541.80,349.6 542.00,349.6 542.20,349.7 542.40,349.7 542.60,349.7 542.80,349.7 543.00,349.7 543.20,349.7" fill="none" stroke="#2a2ae6" stroke-width="1.0" stroke-linejoin="round"/>
<rect x="138.0" y="65.4" width="1.7" height="53" fill="#8c8c8c"/>
<rect x="230.6" y="84" width="1.2" height="34" fill="#6a6a6a"/>
<rect x="138.3" y="324.5" width="1.4" height="25.5" fill="#4a4ae8"/>
<g font-size="8.3" fill="#2a2a2a" stroke="#2a2a2a" stroke-width="0.15" text-anchor="middle">
<text x="63.1" y="105.8" textLength="4.3" lengthAdjust="spacingAndGlyphs">1</text>
<text x="71.2" y="101.3" textLength="4.3" lengthAdjust="spacingAndGlyphs">2</text>
<text x="90.5" y="97.0" textLength="4.3" lengthAdjust="spacingAndGlyphs">3</text>
<text x="125.3" y="110.4" textLength="4.3" lengthAdjust="spacingAndGlyphs">4</text>
<text x="131.5" y="113.5" textLength="4.3" lengthAdjust="spacingAndGlyphs">5</text>
<text x="178" y="104.0" textLength="4.3" lengthAdjust="spacingAndGlyphs">6</text>
<text x="182" y="113.9" textLength="4.3" lengthAdjust="spacingAndGlyphs">7</text>
<text x="207" y="92.3" textLength="8.6" lengthAdjust="spacingAndGlyphs">25</text>
<text x="216.3" y="93.4" textLength="4.3" lengthAdjust="spacingAndGlyphs">8</text>
<text x="225.2" y="111.0" textLength="4.3" lengthAdjust="spacingAndGlyphs">9</text>
<text x="240" y="113.0" textLength="8.6" lengthAdjust="spacingAndGlyphs">10</text>
<text x="249" y="115.0" textLength="8.6" lengthAdjust="spacingAndGlyphs">11</text>
<text x="256.6" y="113.0" textLength="8.6" lengthAdjust="spacingAndGlyphs">12</text>
<text x="264.5" y="114.0" textLength="8.6" lengthAdjust="spacingAndGlyphs">13</text>
<text x="276" y="106.0" textLength="8.6" lengthAdjust="spacingAndGlyphs">14</text>
<text x="287.7" y="115.7" textLength="8.6" lengthAdjust="spacingAndGlyphs">15</text>
<text x="325.7" y="114.5" textLength="8.6" lengthAdjust="spacingAndGlyphs">16</text>
<text x="348.6" y="113.2" textLength="8.6" lengthAdjust="spacingAndGlyphs">17</text>
<text x="392.3" y="112.3" textLength="8.6" lengthAdjust="spacingAndGlyphs">18</text>
<text x="422.5" y="108.9" textLength="8.6" lengthAdjust="spacingAndGlyphs">19</text>
<text x="434.3" y="109.8" textLength="8.6" lengthAdjust="spacingAndGlyphs">20</text>
<text x="449.5" y="100.9" textLength="8.6" lengthAdjust="spacingAndGlyphs">21</text>
<text x="449.5" y="112.3" textLength="8.6" lengthAdjust="spacingAndGlyphs">22</text>
<text x="469.5" y="112.3" textLength="8.6" lengthAdjust="spacingAndGlyphs">23</text>
<text x="491.8" y="96.0" textLength="8.6" lengthAdjust="spacingAndGlyphs">24</text>
</g>
<g font-size="8.3" font-weight="bold" fill="#000" text-anchor="middle">
<text x="140.9" y="21.2" textLength="9" lengthAdjust="spacingAndGlyphs">25</text>
<text x="232.5" y="72.5" textLength="9" lengthAdjust="spacingAndGlyphs">25</text>
<text x="294" y="102.5" textLength="9" lengthAdjust="spacingAndGlyphs">25</text>
<text x="318.9" y="104.8" textLength="9" lengthAdjust="spacingAndGlyphs">25</text>
</g>
<text x="371.4" y="40.1" font-size="14" fill="#111" textLength="143.2" lengthAdjust="spacingAndGlyphs">Non-lung cancer control</text>
<text x="445.3" y="158.4" font-size="14" fill="#ff2222" textLength="70.5" lengthAdjust="spacingAndGlyphs">Lung cancer</text>
<text x="501" y="277.6" font-size="14" fill="#2222ee" textLength="15.4" lengthAdjust="spacingAndGlyphs">TB</text>
</svg>
</body></html>
